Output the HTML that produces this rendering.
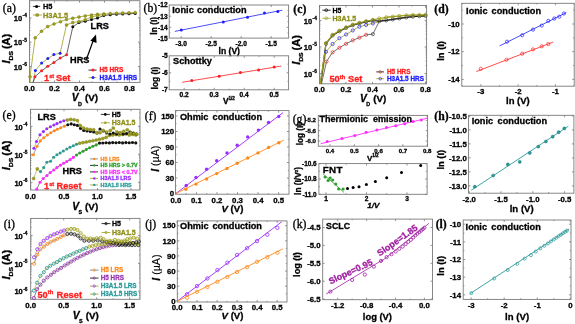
<!DOCTYPE html><html><head><meta charset="utf-8"><style>html,body{margin:0;padding:0;background:#fff;}svg{display:block;will-change:transform;}</style></head><body>
<svg width="575" height="324" viewBox="0 0 575 324">
<rect width="575" height="324" fill="#fff"/>
<rect x="29.5" y="0.7" width="110.5" height="81.7" fill="none" stroke="#7a7a7a" stroke-width="0.9"/>
<line x1="29.5" y1="82.4" x2="29.5" y2="80.4" stroke="#7a7a7a" stroke-width="0.81" />
<line x1="29.5" y1="0.7" x2="29.5" y2="2.7" stroke="#7a7a7a" stroke-width="0.81" />
<line x1="54.5" y1="82.4" x2="54.5" y2="80.4" stroke="#7a7a7a" stroke-width="0.81" />
<line x1="54.5" y1="0.7" x2="54.5" y2="2.7" stroke="#7a7a7a" stroke-width="0.81" />
<line x1="79.5" y1="82.4" x2="79.5" y2="80.4" stroke="#7a7a7a" stroke-width="0.81" />
<line x1="79.5" y1="0.7" x2="79.5" y2="2.7" stroke="#7a7a7a" stroke-width="0.81" />
<line x1="104.5" y1="82.4" x2="104.5" y2="80.4" stroke="#7a7a7a" stroke-width="0.81" />
<line x1="104.5" y1="0.7" x2="104.5" y2="2.7" stroke="#7a7a7a" stroke-width="0.81" />
<line x1="129.5" y1="82.4" x2="129.5" y2="80.4" stroke="#7a7a7a" stroke-width="0.81" />
<line x1="129.5" y1="0.7" x2="129.5" y2="2.7" stroke="#7a7a7a" stroke-width="0.81" />
<line x1="42" y1="82.4" x2="42" y2="81.4" stroke="#7a7a7a" stroke-width="0.7200000000000001" />
<line x1="42" y1="0.7" x2="42" y2="1.7" stroke="#7a7a7a" stroke-width="0.7200000000000001" />
<line x1="67" y1="82.4" x2="67" y2="81.4" stroke="#7a7a7a" stroke-width="0.7200000000000001" />
<line x1="67" y1="0.7" x2="67" y2="1.7" stroke="#7a7a7a" stroke-width="0.7200000000000001" />
<line x1="92" y1="82.4" x2="92" y2="81.4" stroke="#7a7a7a" stroke-width="0.7200000000000001" />
<line x1="92" y1="0.7" x2="92" y2="1.7" stroke="#7a7a7a" stroke-width="0.7200000000000001" />
<line x1="117" y1="82.4" x2="117" y2="81.4" stroke="#7a7a7a" stroke-width="0.7200000000000001" />
<line x1="117" y1="0.7" x2="117" y2="1.7" stroke="#7a7a7a" stroke-width="0.7200000000000001" />
<line x1="29.5" y1="17.9" x2="31.5" y2="17.9" stroke="#7a7a7a" stroke-width="0.81" />
<line x1="140" y1="17.9" x2="138" y2="17.9" stroke="#7a7a7a" stroke-width="0.81" />
<line x1="29.5" y1="42.2" x2="31.5" y2="42.2" stroke="#7a7a7a" stroke-width="0.81" />
<line x1="140" y1="42.2" x2="138" y2="42.2" stroke="#7a7a7a" stroke-width="0.81" />
<line x1="29.5" y1="66.5" x2="31.5" y2="66.5" stroke="#7a7a7a" stroke-width="0.81" />
<line x1="140" y1="66.5" x2="138" y2="66.5" stroke="#7a7a7a" stroke-width="0.81" />
<line x1="29.5" y1="79.21" x2="30.5" y2="79.21" stroke="#7a7a7a" stroke-width="0.7200000000000001" />
<line x1="140" y1="79.21" x2="139" y2="79.21" stroke="#7a7a7a" stroke-width="0.7200000000000001" />
<line x1="29.5" y1="76.17" x2="30.5" y2="76.17" stroke="#7a7a7a" stroke-width="0.7200000000000001" />
<line x1="140" y1="76.17" x2="139" y2="76.17" stroke="#7a7a7a" stroke-width="0.7200000000000001" />
<line x1="29.5" y1="73.82" x2="30.5" y2="73.82" stroke="#7a7a7a" stroke-width="0.7200000000000001" />
<line x1="140" y1="73.82" x2="139" y2="73.82" stroke="#7a7a7a" stroke-width="0.7200000000000001" />
<line x1="29.5" y1="71.89" x2="30.5" y2="71.89" stroke="#7a7a7a" stroke-width="0.7200000000000001" />
<line x1="140" y1="71.89" x2="139" y2="71.89" stroke="#7a7a7a" stroke-width="0.7200000000000001" />
<line x1="29.5" y1="70.26" x2="30.5" y2="70.26" stroke="#7a7a7a" stroke-width="0.7200000000000001" />
<line x1="140" y1="70.26" x2="139" y2="70.26" stroke="#7a7a7a" stroke-width="0.7200000000000001" />
<line x1="29.5" y1="68.85" x2="30.5" y2="68.85" stroke="#7a7a7a" stroke-width="0.7200000000000001" />
<line x1="140" y1="68.85" x2="139" y2="68.85" stroke="#7a7a7a" stroke-width="0.7200000000000001" />
<line x1="29.5" y1="67.61" x2="30.5" y2="67.61" stroke="#7a7a7a" stroke-width="0.7200000000000001" />
<line x1="140" y1="67.61" x2="139" y2="67.61" stroke="#7a7a7a" stroke-width="0.7200000000000001" />
<line x1="29.5" y1="59.18" x2="30.5" y2="59.18" stroke="#7a7a7a" stroke-width="0.7200000000000001" />
<line x1="140" y1="59.18" x2="139" y2="59.18" stroke="#7a7a7a" stroke-width="0.7200000000000001" />
<line x1="29.5" y1="54.91" x2="30.5" y2="54.91" stroke="#7a7a7a" stroke-width="0.7200000000000001" />
<line x1="140" y1="54.91" x2="139" y2="54.91" stroke="#7a7a7a" stroke-width="0.7200000000000001" />
<line x1="29.5" y1="51.87" x2="30.5" y2="51.87" stroke="#7a7a7a" stroke-width="0.7200000000000001" />
<line x1="140" y1="51.87" x2="139" y2="51.87" stroke="#7a7a7a" stroke-width="0.7200000000000001" />
<line x1="29.5" y1="49.52" x2="30.5" y2="49.52" stroke="#7a7a7a" stroke-width="0.7200000000000001" />
<line x1="140" y1="49.52" x2="139" y2="49.52" stroke="#7a7a7a" stroke-width="0.7200000000000001" />
<line x1="29.5" y1="47.59" x2="30.5" y2="47.59" stroke="#7a7a7a" stroke-width="0.7200000000000001" />
<line x1="140" y1="47.59" x2="139" y2="47.59" stroke="#7a7a7a" stroke-width="0.7200000000000001" />
<line x1="29.5" y1="45.96" x2="30.5" y2="45.96" stroke="#7a7a7a" stroke-width="0.7200000000000001" />
<line x1="140" y1="45.96" x2="139" y2="45.96" stroke="#7a7a7a" stroke-width="0.7200000000000001" />
<line x1="29.5" y1="44.55" x2="30.5" y2="44.55" stroke="#7a7a7a" stroke-width="0.7200000000000001" />
<line x1="140" y1="44.55" x2="139" y2="44.55" stroke="#7a7a7a" stroke-width="0.7200000000000001" />
<line x1="29.5" y1="43.31" x2="30.5" y2="43.31" stroke="#7a7a7a" stroke-width="0.7200000000000001" />
<line x1="140" y1="43.31" x2="139" y2="43.31" stroke="#7a7a7a" stroke-width="0.7200000000000001" />
<line x1="29.5" y1="34.88" x2="30.5" y2="34.88" stroke="#7a7a7a" stroke-width="0.7200000000000001" />
<line x1="140" y1="34.88" x2="139" y2="34.88" stroke="#7a7a7a" stroke-width="0.7200000000000001" />
<line x1="29.5" y1="30.61" x2="30.5" y2="30.61" stroke="#7a7a7a" stroke-width="0.7200000000000001" />
<line x1="140" y1="30.61" x2="139" y2="30.61" stroke="#7a7a7a" stroke-width="0.7200000000000001" />
<line x1="29.5" y1="27.57" x2="30.5" y2="27.57" stroke="#7a7a7a" stroke-width="0.7200000000000001" />
<line x1="140" y1="27.57" x2="139" y2="27.57" stroke="#7a7a7a" stroke-width="0.7200000000000001" />
<line x1="29.5" y1="25.22" x2="30.5" y2="25.22" stroke="#7a7a7a" stroke-width="0.7200000000000001" />
<line x1="140" y1="25.22" x2="139" y2="25.22" stroke="#7a7a7a" stroke-width="0.7200000000000001" />
<line x1="29.5" y1="23.29" x2="30.5" y2="23.29" stroke="#7a7a7a" stroke-width="0.7200000000000001" />
<line x1="140" y1="23.29" x2="139" y2="23.29" stroke="#7a7a7a" stroke-width="0.7200000000000001" />
<line x1="29.5" y1="21.66" x2="30.5" y2="21.66" stroke="#7a7a7a" stroke-width="0.7200000000000001" />
<line x1="140" y1="21.66" x2="139" y2="21.66" stroke="#7a7a7a" stroke-width="0.7200000000000001" />
<line x1="29.5" y1="20.25" x2="30.5" y2="20.25" stroke="#7a7a7a" stroke-width="0.7200000000000001" />
<line x1="140" y1="20.25" x2="139" y2="20.25" stroke="#7a7a7a" stroke-width="0.7200000000000001" />
<line x1="29.5" y1="19.01" x2="30.5" y2="19.01" stroke="#7a7a7a" stroke-width="0.7200000000000001" />
<line x1="140" y1="19.01" x2="139" y2="19.01" stroke="#7a7a7a" stroke-width="0.7200000000000001" />
<line x1="29.5" y1="10.58" x2="30.5" y2="10.58" stroke="#7a7a7a" stroke-width="0.7200000000000001" />
<line x1="140" y1="10.58" x2="139" y2="10.58" stroke="#7a7a7a" stroke-width="0.7200000000000001" />
<line x1="29.5" y1="6.31" x2="30.5" y2="6.31" stroke="#7a7a7a" stroke-width="0.7200000000000001" />
<line x1="140" y1="6.31" x2="139" y2="6.31" stroke="#7a7a7a" stroke-width="0.7200000000000001" />
<line x1="29.5" y1="3.27" x2="30.5" y2="3.27" stroke="#7a7a7a" stroke-width="0.7200000000000001" />
<line x1="140" y1="3.27" x2="139" y2="3.27" stroke="#7a7a7a" stroke-width="0.7200000000000001" />
<text x="29.5" y="91.2" font-size="7.8" text-anchor="middle" font-weight="bold" fill="#000" font-family='"Liberation Sans", sans-serif' font-style="normal"  stroke="#000" stroke-width="0.3">0.0</text>
<text x="54.5" y="91.2" font-size="7.8" text-anchor="middle" font-weight="bold" fill="#000" font-family='"Liberation Sans", sans-serif' font-style="normal"  stroke="#000" stroke-width="0.3">0.2</text>
<text x="79.5" y="91.2" font-size="7.8" text-anchor="middle" font-weight="bold" fill="#000" font-family='"Liberation Sans", sans-serif' font-style="normal"  stroke="#000" stroke-width="0.3">0.4</text>
<text x="104.5" y="91.2" font-size="7.8" text-anchor="middle" font-weight="bold" fill="#000" font-family='"Liberation Sans", sans-serif' font-style="normal"  stroke="#000" stroke-width="0.3">0.6</text>
<text x="129.5" y="91.2" font-size="7.8" text-anchor="middle" font-weight="bold" fill="#000" font-family='"Liberation Sans", sans-serif' font-style="normal"  stroke="#000" stroke-width="0.3">0.8</text>
<text x="22.2" y="21.1" font-size="7.5" text-anchor="end" font-weight="bold" fill="#000" font-family='"Liberation Sans", sans-serif' font-style="normal"  stroke="#000" stroke-width="0.3">10</text>
<text x="22.6" y="17.3" font-size="4.8" text-anchor="start" font-weight="bold" fill="#000" font-family='"Liberation Sans", sans-serif' font-style="normal"  stroke="#000" stroke-width="0.3">-4</text>
<text x="22.2" y="45.4" font-size="7.5" text-anchor="end" font-weight="bold" fill="#000" font-family='"Liberation Sans", sans-serif' font-style="normal"  stroke="#000" stroke-width="0.3">10</text>
<text x="22.6" y="41.6" font-size="4.8" text-anchor="start" font-weight="bold" fill="#000" font-family='"Liberation Sans", sans-serif' font-style="normal"  stroke="#000" stroke-width="0.3">-5</text>
<text x="22.2" y="69.7" font-size="7.5" text-anchor="end" font-weight="bold" fill="#000" font-family='"Liberation Sans", sans-serif' font-style="normal"  stroke="#000" stroke-width="0.3">10</text>
<text x="22.6" y="65.9" font-size="4.8" text-anchor="start" font-weight="bold" fill="#000" font-family='"Liberation Sans", sans-serif' font-style="normal"  stroke="#000" stroke-width="0.3">-6</text>
<text x="71.8" y="101.4" font-size="9.8" font-weight="bold" font-family='"Liberation Sans", sans-serif' stroke="#000" stroke-width="0.3"><tspan font-style="italic" font-size="10.19">V</tspan><tspan font-size="5.49" dy="4.12" dx="-0.5">D</tspan><tspan dy="-4.12" dx="2.94">(V)</tspan></text>
<text transform="translate(10.4,48.7) rotate(-90) scale(1.1,1)" text-anchor="middle" font-size="10.0" font-weight="bold" font-family='"Liberation Sans", sans-serif' stroke="#000" stroke-width="0.3"><tspan font-style="italic">I</tspan><tspan font-size="6.20" dy="2.80">DS</tspan><tspan dy="-2.80" dx="1.80">(A)</tspan></text>
<text x="2.8" y="11.9" font-size="11.7" text-anchor="start" font-weight="normal" fill="#000" font-family='"Liberation Serif", serif' font-style="normal"  stroke="#000" stroke-width="0.3">(a)</text>
<polyline points="30.3,82.4 30,76.7 35.2,37.8 41.5,31.3 47.7,26.6 54,23.9 60.5,21.7 66.5,19.4 72.8,18.2 79,17 85.2,15.9 91.5,15 97.5,14.3 103.9,13.9 110.2,13.6 116.5,13.2 122.7,13 129,12.8 135.2,12.6" fill="none" stroke="#a0a020" stroke-width="0.8" stroke-linejoin="round" />
<polyline points="33.4,82.4 35.4,70.5 41.6,63.1 47.8,58.6 53.9,54.6 60.1,53.2 66.5,24.9 72.8,22.6 79,21.5 85.2,19.8 91.5,17 97.5,15.6 103.9,14.6" fill="none" stroke="#a0a020" stroke-width="0.8" stroke-linejoin="round" />
<polyline points="33,82.4 34.9,76.7 41.6,70.8 47.8,66.3 53.9,62.5 60.1,58.1 66.6,54.8 72.8,26.8 79,22.6 85.2,21.2 91.5,19.6 97.5,18 103.9,15.6 110.2,14.7 116.5,14.2 122.7,13.9 129,13.7 135.2,13.5" fill="none" stroke="#222" stroke-width="0.7" stroke-linejoin="round" />
<circle cx="72.8" cy="26.8" r="1.5" fill="#111"/>
<circle cx="79" cy="22.6" r="1.5" fill="#111"/>
<circle cx="85.2" cy="21.2" r="1.5" fill="#111"/>
<circle cx="91.5" cy="19.6" r="1.5" fill="#111"/>
<circle cx="97.5" cy="18" r="1.5" fill="#111"/>
<circle cx="103.9" cy="15.6" r="1.5" fill="#111"/>
<circle cx="110.2" cy="14.7" r="1.5" fill="#111"/>
<circle cx="116.5" cy="14.2" r="1.5" fill="#111"/>
<circle cx="122.7" cy="13.9" r="1.5" fill="#111"/>
<circle cx="129" cy="13.7" r="1.5" fill="#111"/>
<circle cx="135.2" cy="13.5" r="1.5" fill="#111"/>
<circle cx="30" cy="76.7" r="1.5" fill="#a0a020" stroke="#6e6e12" stroke-width="0.35"/>
<circle cx="35.2" cy="37.8" r="1.5" fill="#a0a020" stroke="#6e6e12" stroke-width="0.35"/>
<circle cx="41.5" cy="31.3" r="1.5" fill="#a0a020" stroke="#6e6e12" stroke-width="0.35"/>
<circle cx="47.7" cy="26.6" r="1.5" fill="#a0a020" stroke="#6e6e12" stroke-width="0.35"/>
<circle cx="54" cy="23.9" r="1.5" fill="#a0a020" stroke="#6e6e12" stroke-width="0.35"/>
<circle cx="60.5" cy="21.7" r="1.5" fill="#a0a020" stroke="#6e6e12" stroke-width="0.35"/>
<circle cx="66.5" cy="19.4" r="1.5" fill="#a0a020" stroke="#6e6e12" stroke-width="0.35"/>
<circle cx="72.8" cy="18.2" r="1.5" fill="#a0a020" stroke="#6e6e12" stroke-width="0.35"/>
<circle cx="79" cy="17" r="1.5" fill="#a0a020" stroke="#6e6e12" stroke-width="0.35"/>
<circle cx="85.2" cy="15.9" r="1.5" fill="#a0a020" stroke="#6e6e12" stroke-width="0.35"/>
<circle cx="91.5" cy="15" r="1.5" fill="#a0a020" stroke="#6e6e12" stroke-width="0.35"/>
<circle cx="97.5" cy="14.3" r="1.5" fill="#a0a020" stroke="#6e6e12" stroke-width="0.35"/>
<circle cx="103.9" cy="13.9" r="1.5" fill="#a0a020" stroke="#6e6e12" stroke-width="0.35"/>
<circle cx="110.2" cy="13.6" r="1.5" fill="#a0a020" stroke="#6e6e12" stroke-width="0.35"/>
<circle cx="116.5" cy="13.2" r="1.5" fill="#a0a020" stroke="#6e6e12" stroke-width="0.35"/>
<circle cx="122.7" cy="13" r="1.5" fill="#a0a020" stroke="#6e6e12" stroke-width="0.35"/>
<circle cx="129" cy="12.8" r="1.5" fill="#a0a020" stroke="#6e6e12" stroke-width="0.35"/>
<circle cx="135.2" cy="12.6" r="1.5" fill="#a0a020" stroke="#6e6e12" stroke-width="0.35"/>
<circle cx="66.5" cy="24.9" r="1.5" fill="#a0a020" stroke="#6e6e12" stroke-width="0.35"/>
<circle cx="72.8" cy="22.6" r="1.5" fill="#a0a020" stroke="#6e6e12" stroke-width="0.35"/>
<circle cx="79" cy="21.5" r="1.5" fill="#a0a020" stroke="#6e6e12" stroke-width="0.35"/>
<circle cx="85.2" cy="19.8" r="1.5" fill="#a0a020" stroke="#6e6e12" stroke-width="0.35"/>
<circle cx="91.5" cy="17" r="1.5" fill="#a0a020" stroke="#6e6e12" stroke-width="0.35"/>
<circle cx="97.5" cy="15.6" r="1.5" fill="#a0a020" stroke="#6e6e12" stroke-width="0.35"/>
<circle cx="103.9" cy="14.6" r="1.5" fill="#a0a020" stroke="#6e6e12" stroke-width="0.35"/>
<circle cx="35.4" cy="70.5" r="1.5" fill="#2020ff"/>
<circle cx="41.6" cy="63.1" r="1.5" fill="#2020ff"/>
<circle cx="47.8" cy="58.6" r="1.5" fill="#2020ff"/>
<circle cx="53.9" cy="54.6" r="1.5" fill="#2020ff"/>
<circle cx="60.1" cy="53.2" r="1.5" fill="#2020ff"/>
<circle cx="34.9" cy="76.7" r="1.5" fill="#ff2020"/>
<circle cx="41.6" cy="70.8" r="1.5" fill="#ff2020"/>
<circle cx="47.8" cy="66.3" r="1.5" fill="#ff2020"/>
<circle cx="53.9" cy="62.5" r="1.5" fill="#ff2020"/>
<circle cx="60.1" cy="58.1" r="1.5" fill="#ff2020"/>
<circle cx="66.6" cy="54.8" r="1.5" fill="#ff2020"/>
<line x1="32.9" y1="6.4" x2="40.2" y2="6.4" stroke="#000" stroke-width="0.8" />
<circle cx="36.6" cy="6.4" r="1.5" fill="#000"/>
<text x="43" y="9" font-size="7.4" text-anchor="start" font-weight="bold" fill="#000" font-family='"Liberation Sans", sans-serif' font-style="normal"  stroke="#000" stroke-width="0.3">H5</text>
<line x1="32.9" y1="15" x2="41.9" y2="15" stroke="#a0a020" stroke-width="0.8" />
<circle cx="37.2" cy="15" r="1.6" fill="#a0a020" stroke="#6e6e12" stroke-width="0.35"/>
<text x="43" y="17.6" font-size="7.4" text-anchor="start" font-weight="bold" fill="#8f8f1a" font-family='"Liberation Sans", sans-serif' font-style="normal"  stroke="#8f8f1a" stroke-width="0.3">H3A1.5</text>
<line x1="88.5" y1="70.1" x2="96.5" y2="70.1" stroke="#000" stroke-width="0.8" />
<circle cx="93" cy="70.1" r="1.5" fill="#ff2020"/>
<text x="99.4" y="72.4" font-size="6.5" text-anchor="start" font-weight="bold" fill="#ff2020" font-family='"Liberation Sans", sans-serif' font-style="normal"  stroke="#ff2020" stroke-width="0.3">H5 HRS</text>
<line x1="88.5" y1="77.6" x2="96.5" y2="77.6" stroke="#a0a020" stroke-width="0.8" />
<circle cx="93" cy="77.6" r="1.5" fill="#2020ff"/>
<text x="99.6" y="79.9" font-size="6.5" text-anchor="start" font-weight="bold" fill="#2020ff" font-family='"Liberation Sans", sans-serif' font-style="normal"  stroke="#2020ff" stroke-width="0.3">H3A1.5 HRS</text>
<text x="90.6" y="29.4" font-size="9.2" text-anchor="start" font-weight="bold" fill="#000" font-family='"Liberation Sans", sans-serif' font-style="normal"  stroke="#000" stroke-width="0.3">LRS</text>
<text x="70" y="62.6" font-size="9.2" text-anchor="start" font-weight="bold" fill="#000" font-family='"Liberation Sans", sans-serif' font-style="normal"  stroke="#000" stroke-width="0.3">HRS</text>
<line x1="86.3" y1="59.6" x2="93.2" y2="40.6" stroke="#000" stroke-width="1.3" />
<polygon points="96.0,34.6 90.4,40.8 96.6,43.0" fill="#000"/>
<text x="44" y="81.4" font-size="9.2" font-weight="bold" fill="#ff2020" font-family='"Liberation Sans", sans-serif' stroke="#ff2020" stroke-width="0.3">1<tspan font-size="5.6" dy="-3.6">st</tspan><tspan dy="3.6" dx="2">Set</tspan></text>
<rect x="169.2" y="5" width="119.4" height="33.1" fill="none" stroke="#7a7a7a" stroke-width="0.9"/>
<line x1="181.2" y1="38.1" x2="181.2" y2="36.1" stroke="#7a7a7a" stroke-width="0.81" />
<line x1="181.2" y1="5" x2="181.2" y2="7" stroke="#7a7a7a" stroke-width="0.81" />
<line x1="211.2" y1="38.1" x2="211.2" y2="36.1" stroke="#7a7a7a" stroke-width="0.81" />
<line x1="211.2" y1="5" x2="211.2" y2="7" stroke="#7a7a7a" stroke-width="0.81" />
<line x1="241.2" y1="38.1" x2="241.2" y2="36.1" stroke="#7a7a7a" stroke-width="0.81" />
<line x1="241.2" y1="5" x2="241.2" y2="7" stroke="#7a7a7a" stroke-width="0.81" />
<line x1="271.2" y1="38.1" x2="271.2" y2="36.1" stroke="#7a7a7a" stroke-width="0.81" />
<line x1="271.2" y1="5" x2="271.2" y2="7" stroke="#7a7a7a" stroke-width="0.81" />
<line x1="169.2" y1="16.2" x2="171.2" y2="16.2" stroke="#7a7a7a" stroke-width="0.81" />
<line x1="288.6" y1="16.2" x2="286.6" y2="16.2" stroke="#7a7a7a" stroke-width="0.81" />
<line x1="169.2" y1="27.3" x2="171.2" y2="27.3" stroke="#7a7a7a" stroke-width="0.81" />
<line x1="288.6" y1="27.3" x2="286.6" y2="27.3" stroke="#7a7a7a" stroke-width="0.81" />
<line x1="169.2" y1="10.65" x2="170.4" y2="10.65" stroke="#7a7a7a" stroke-width="0.7200000000000001" />
<line x1="288.6" y1="10.65" x2="287.4" y2="10.65" stroke="#7a7a7a" stroke-width="0.7200000000000001" />
<line x1="169.2" y1="21.75" x2="170.4" y2="21.75" stroke="#7a7a7a" stroke-width="0.7200000000000001" />
<line x1="288.6" y1="21.75" x2="287.4" y2="21.75" stroke="#7a7a7a" stroke-width="0.7200000000000001" />
<line x1="169.2" y1="32.85" x2="170.4" y2="32.85" stroke="#7a7a7a" stroke-width="0.7200000000000001" />
<line x1="288.6" y1="32.85" x2="287.4" y2="32.85" stroke="#7a7a7a" stroke-width="0.7200000000000001" />
<text x="181.2" y="46.2" font-size="6.6" text-anchor="middle" font-weight="bold" fill="#000" font-family='"Liberation Sans", sans-serif' font-style="normal"  stroke="#000" stroke-width="0.3">-3.0</text>
<text x="211.2" y="46.2" font-size="6.6" text-anchor="middle" font-weight="bold" fill="#000" font-family='"Liberation Sans", sans-serif' font-style="normal"  stroke="#000" stroke-width="0.3">-2.5</text>
<text x="241.2" y="46.2" font-size="6.6" text-anchor="middle" font-weight="bold" fill="#000" font-family='"Liberation Sans", sans-serif' font-style="normal"  stroke="#000" stroke-width="0.3">-2.0</text>
<text x="271.2" y="46.2" font-size="6.6" text-anchor="middle" font-weight="bold" fill="#000" font-family='"Liberation Sans", sans-serif' font-style="normal"  stroke="#000" stroke-width="0.3">-1.5</text>
<text x="167.6" y="7.41" font-size="6.6" text-anchor="end" font-weight="bold" fill="#000" font-family='"Liberation Sans", sans-serif' font-style="normal"  stroke="#000" stroke-width="0.3">-12</text>
<text x="167.6" y="18.51" font-size="6.6" text-anchor="end" font-weight="bold" fill="#000" font-family='"Liberation Sans", sans-serif' font-style="normal"  stroke="#000" stroke-width="0.3">-13</text>
<text x="167.6" y="29.61" font-size="6.6" text-anchor="end" font-weight="bold" fill="#000" font-family='"Liberation Sans", sans-serif' font-style="normal"  stroke="#000" stroke-width="0.3">-14</text>
<text x="167.6" y="40.71" font-size="6.6" text-anchor="end" font-weight="bold" fill="#000" font-family='"Liberation Sans", sans-serif' font-style="normal"  stroke="#000" stroke-width="0.3">-15</text>
<polyline points="174.8,31.4 282.3,10.2" fill="none" stroke="#2020ff" stroke-width="0.8" stroke-linejoin="round" />
<circle cx="181.3" cy="30" r="1.5" fill="#2020ff"/>
<circle cx="223.3" cy="22.1" r="1.5" fill="#2020ff"/>
<circle cx="247.5" cy="17.3" r="1.5" fill="#2020ff"/>
<circle cx="264.5" cy="13.1" r="1.5" fill="#2020ff"/>
<circle cx="277.8" cy="11.4" r="1.5" fill="#2020ff"/>
<text x="172.3" y="13" font-size="9.2" font-weight="bold" fill="#000" font-family='"Liberation Sans", sans-serif' word-spacing="0.8" letter-spacing="0" stroke="#000" stroke-width="0.3">Ionic conduction</text>
<text transform="translate(157.3,25.8) rotate(-90)" font-size="8.4" text-anchor="middle" font-weight="bold" fill="#000" font-family='"Liberation Sans", sans-serif'  stroke="#000" stroke-width="0.3">ln (I)</text>
<text x="218.5" y="53.6" font-size="8.6" text-anchor="start" font-weight="bold" fill="#000" font-family='"Liberation Sans", sans-serif' font-style="normal"  stroke="#000" stroke-width="0.3">ln (V)</text>
<text x="143.6" y="12.2" font-size="11.7" text-anchor="start" font-weight="normal" fill="#000" font-family='"Liberation Serif", serif' font-style="normal"  stroke="#000" stroke-width="0.3">(b)</text>
<rect x="169.2" y="55.8" width="119.4" height="34" fill="none" stroke="#7a7a7a" stroke-width="0.9"/>
<line x1="184.2" y1="89.8" x2="184.2" y2="87.8" stroke="#7a7a7a" stroke-width="0.81" />
<line x1="184.2" y1="55.8" x2="184.2" y2="57.8" stroke="#7a7a7a" stroke-width="0.81" />
<line x1="214.2" y1="89.8" x2="214.2" y2="87.8" stroke="#7a7a7a" stroke-width="0.81" />
<line x1="214.2" y1="55.8" x2="214.2" y2="57.8" stroke="#7a7a7a" stroke-width="0.81" />
<line x1="244.2" y1="89.8" x2="244.2" y2="87.8" stroke="#7a7a7a" stroke-width="0.81" />
<line x1="244.2" y1="55.8" x2="244.2" y2="57.8" stroke="#7a7a7a" stroke-width="0.81" />
<line x1="274.2" y1="89.8" x2="274.2" y2="87.8" stroke="#7a7a7a" stroke-width="0.81" />
<line x1="274.2" y1="55.8" x2="274.2" y2="57.8" stroke="#7a7a7a" stroke-width="0.81" />
<line x1="199.2" y1="89.8" x2="199.2" y2="88.6" stroke="#7a7a7a" stroke-width="0.7200000000000001" />
<line x1="199.2" y1="55.8" x2="199.2" y2="57" stroke="#7a7a7a" stroke-width="0.7200000000000001" />
<line x1="229.2" y1="89.8" x2="229.2" y2="88.6" stroke="#7a7a7a" stroke-width="0.7200000000000001" />
<line x1="229.2" y1="55.8" x2="229.2" y2="57" stroke="#7a7a7a" stroke-width="0.7200000000000001" />
<line x1="259.2" y1="89.8" x2="259.2" y2="88.6" stroke="#7a7a7a" stroke-width="0.7200000000000001" />
<line x1="259.2" y1="55.8" x2="259.2" y2="57" stroke="#7a7a7a" stroke-width="0.7200000000000001" />
<line x1="169.2" y1="72.75" x2="171.2" y2="72.75" stroke="#7a7a7a" stroke-width="0.81" />
<line x1="288.6" y1="72.75" x2="286.6" y2="72.75" stroke="#7a7a7a" stroke-width="0.81" />
<line x1="169.2" y1="64.17" x2="170.4" y2="64.17" stroke="#7a7a7a" stroke-width="0.7200000000000001" />
<line x1="288.6" y1="64.17" x2="287.4" y2="64.17" stroke="#7a7a7a" stroke-width="0.7200000000000001" />
<line x1="169.2" y1="81.33" x2="170.4" y2="81.33" stroke="#7a7a7a" stroke-width="0.7200000000000001" />
<line x1="288.6" y1="81.33" x2="287.4" y2="81.33" stroke="#7a7a7a" stroke-width="0.7200000000000001" />
<text x="184.2" y="97" font-size="6.6" text-anchor="middle" font-weight="bold" fill="#000" font-family='"Liberation Sans", sans-serif' font-style="normal"  stroke="#000" stroke-width="0.3">0.2</text>
<text x="214.2" y="97" font-size="6.6" text-anchor="middle" font-weight="bold" fill="#000" font-family='"Liberation Sans", sans-serif' font-style="normal"  stroke="#000" stroke-width="0.3">0.3</text>
<text x="244.2" y="97" font-size="6.6" text-anchor="middle" font-weight="bold" fill="#000" font-family='"Liberation Sans", sans-serif' font-style="normal"  stroke="#000" stroke-width="0.3">0.4</text>
<text x="274.2" y="97" font-size="6.6" text-anchor="middle" font-weight="bold" fill="#000" font-family='"Liberation Sans", sans-serif' font-style="normal"  stroke="#000" stroke-width="0.3">0.5</text>
<text x="167.8" y="57.91" font-size="6.6" text-anchor="end" font-weight="bold" fill="#000" font-family='"Liberation Sans", sans-serif' font-style="normal"  stroke="#000" stroke-width="0.3">-5</text>
<text x="167.8" y="75.06" font-size="6.6" text-anchor="end" font-weight="bold" fill="#000" font-family='"Liberation Sans", sans-serif' font-style="normal"  stroke="#000" stroke-width="0.3">-6</text>
<text x="167.8" y="92.21" font-size="6.6" text-anchor="end" font-weight="bold" fill="#000" font-family='"Liberation Sans", sans-serif' font-style="normal"  stroke="#000" stroke-width="0.3">-7</text>
<polyline points="182.1,82.3 281.2,66.1" fill="none" stroke="#ff2020" stroke-width="0.8" stroke-linejoin="round" />
<circle cx="191.8" cy="80.6" r="1.5" fill="#ff2020"/>
<circle cx="219.2" cy="76.3" r="1.5" fill="#ff2020"/>
<circle cx="240.4" cy="72.6" r="1.5" fill="#ff2020"/>
<circle cx="258.6" cy="70" r="1.5" fill="#ff2020"/>
<circle cx="274.2" cy="67" r="1.5" fill="#ff2020"/>
<text x="173.1" y="64.3" font-size="9.2" font-weight="bold" fill="#000" font-family='"Liberation Sans", sans-serif' word-spacing="2.2" letter-spacing="0" stroke="#000" stroke-width="0.3">Schottky</text>
<text transform="translate(157.6,78) rotate(-90)" font-size="8.4" text-anchor="middle" font-weight="bold" fill="#000" font-family='"Liberation Sans", sans-serif'  stroke="#000" stroke-width="0.3">log (I)</text>
<text x="222.9" y="104" font-size="8.4" font-weight="bold" font-family='"Liberation Sans", sans-serif' stroke="#000" stroke-width="0.3">V<tspan font-size="4.6" dy="-4.2">1/2</tspan></text>
<rect x="319.5" y="5.5" width="107.1" height="78.3" fill="none" stroke="#7a7a7a" stroke-width="0.9"/>
<line x1="319.5" y1="83.8" x2="319.5" y2="81.8" stroke="#7a7a7a" stroke-width="0.81" />
<line x1="319.5" y1="5.5" x2="319.5" y2="7.5" stroke="#7a7a7a" stroke-width="0.81" />
<line x1="346" y1="83.8" x2="346" y2="81.8" stroke="#7a7a7a" stroke-width="0.81" />
<line x1="346" y1="5.5" x2="346" y2="7.5" stroke="#7a7a7a" stroke-width="0.81" />
<line x1="372.5" y1="83.8" x2="372.5" y2="81.8" stroke="#7a7a7a" stroke-width="0.81" />
<line x1="372.5" y1="5.5" x2="372.5" y2="7.5" stroke="#7a7a7a" stroke-width="0.81" />
<line x1="399" y1="83.8" x2="399" y2="81.8" stroke="#7a7a7a" stroke-width="0.81" />
<line x1="399" y1="5.5" x2="399" y2="7.5" stroke="#7a7a7a" stroke-width="0.81" />
<line x1="425.5" y1="83.8" x2="425.5" y2="81.8" stroke="#7a7a7a" stroke-width="0.81" />
<line x1="425.5" y1="5.5" x2="425.5" y2="7.5" stroke="#7a7a7a" stroke-width="0.81" />
<line x1="332.75" y1="83.8" x2="332.75" y2="82.8" stroke="#7a7a7a" stroke-width="0.7200000000000001" />
<line x1="332.75" y1="5.5" x2="332.75" y2="6.5" stroke="#7a7a7a" stroke-width="0.7200000000000001" />
<line x1="359.25" y1="83.8" x2="359.25" y2="82.8" stroke="#7a7a7a" stroke-width="0.7200000000000001" />
<line x1="359.25" y1="5.5" x2="359.25" y2="6.5" stroke="#7a7a7a" stroke-width="0.7200000000000001" />
<line x1="385.75" y1="83.8" x2="385.75" y2="82.8" stroke="#7a7a7a" stroke-width="0.7200000000000001" />
<line x1="385.75" y1="5.5" x2="385.75" y2="6.5" stroke="#7a7a7a" stroke-width="0.7200000000000001" />
<line x1="412.25" y1="83.8" x2="412.25" y2="82.8" stroke="#7a7a7a" stroke-width="0.7200000000000001" />
<line x1="412.25" y1="5.5" x2="412.25" y2="6.5" stroke="#7a7a7a" stroke-width="0.7200000000000001" />
<line x1="319.5" y1="20.4" x2="321.5" y2="20.4" stroke="#7a7a7a" stroke-width="0.81" />
<line x1="426.6" y1="20.4" x2="424.6" y2="20.4" stroke="#7a7a7a" stroke-width="0.81" />
<line x1="319.5" y1="46.95" x2="321.5" y2="46.95" stroke="#7a7a7a" stroke-width="0.81" />
<line x1="426.6" y1="46.95" x2="424.6" y2="46.95" stroke="#7a7a7a" stroke-width="0.81" />
<line x1="319.5" y1="73.5" x2="321.5" y2="73.5" stroke="#7a7a7a" stroke-width="0.81" />
<line x1="426.6" y1="73.5" x2="424.6" y2="73.5" stroke="#7a7a7a" stroke-width="0.81" />
<line x1="319.5" y1="81.49" x2="320.5" y2="81.49" stroke="#7a7a7a" stroke-width="0.7200000000000001" />
<line x1="426.6" y1="81.49" x2="425.6" y2="81.49" stroke="#7a7a7a" stroke-width="0.7200000000000001" />
<line x1="319.5" y1="79.39" x2="320.5" y2="79.39" stroke="#7a7a7a" stroke-width="0.7200000000000001" />
<line x1="426.6" y1="79.39" x2="425.6" y2="79.39" stroke="#7a7a7a" stroke-width="0.7200000000000001" />
<line x1="319.5" y1="77.61" x2="320.5" y2="77.61" stroke="#7a7a7a" stroke-width="0.7200000000000001" />
<line x1="426.6" y1="77.61" x2="425.6" y2="77.61" stroke="#7a7a7a" stroke-width="0.7200000000000001" />
<line x1="319.5" y1="76.07" x2="320.5" y2="76.07" stroke="#7a7a7a" stroke-width="0.7200000000000001" />
<line x1="426.6" y1="76.07" x2="425.6" y2="76.07" stroke="#7a7a7a" stroke-width="0.7200000000000001" />
<line x1="319.5" y1="74.71" x2="320.5" y2="74.71" stroke="#7a7a7a" stroke-width="0.7200000000000001" />
<line x1="426.6" y1="74.71" x2="425.6" y2="74.71" stroke="#7a7a7a" stroke-width="0.7200000000000001" />
<line x1="319.5" y1="65.51" x2="320.5" y2="65.51" stroke="#7a7a7a" stroke-width="0.7200000000000001" />
<line x1="426.6" y1="65.51" x2="425.6" y2="65.51" stroke="#7a7a7a" stroke-width="0.7200000000000001" />
<line x1="319.5" y1="60.83" x2="320.5" y2="60.83" stroke="#7a7a7a" stroke-width="0.7200000000000001" />
<line x1="426.6" y1="60.83" x2="425.6" y2="60.83" stroke="#7a7a7a" stroke-width="0.7200000000000001" />
<line x1="319.5" y1="57.52" x2="320.5" y2="57.52" stroke="#7a7a7a" stroke-width="0.7200000000000001" />
<line x1="426.6" y1="57.52" x2="425.6" y2="57.52" stroke="#7a7a7a" stroke-width="0.7200000000000001" />
<line x1="319.5" y1="54.94" x2="320.5" y2="54.94" stroke="#7a7a7a" stroke-width="0.7200000000000001" />
<line x1="426.6" y1="54.94" x2="425.6" y2="54.94" stroke="#7a7a7a" stroke-width="0.7200000000000001" />
<line x1="319.5" y1="52.84" x2="320.5" y2="52.84" stroke="#7a7a7a" stroke-width="0.7200000000000001" />
<line x1="426.6" y1="52.84" x2="425.6" y2="52.84" stroke="#7a7a7a" stroke-width="0.7200000000000001" />
<line x1="319.5" y1="51.06" x2="320.5" y2="51.06" stroke="#7a7a7a" stroke-width="0.7200000000000001" />
<line x1="426.6" y1="51.06" x2="425.6" y2="51.06" stroke="#7a7a7a" stroke-width="0.7200000000000001" />
<line x1="319.5" y1="49.52" x2="320.5" y2="49.52" stroke="#7a7a7a" stroke-width="0.7200000000000001" />
<line x1="426.6" y1="49.52" x2="425.6" y2="49.52" stroke="#7a7a7a" stroke-width="0.7200000000000001" />
<line x1="319.5" y1="48.16" x2="320.5" y2="48.16" stroke="#7a7a7a" stroke-width="0.7200000000000001" />
<line x1="426.6" y1="48.16" x2="425.6" y2="48.16" stroke="#7a7a7a" stroke-width="0.7200000000000001" />
<line x1="319.5" y1="38.96" x2="320.5" y2="38.96" stroke="#7a7a7a" stroke-width="0.7200000000000001" />
<line x1="426.6" y1="38.96" x2="425.6" y2="38.96" stroke="#7a7a7a" stroke-width="0.7200000000000001" />
<line x1="319.5" y1="34.28" x2="320.5" y2="34.28" stroke="#7a7a7a" stroke-width="0.7200000000000001" />
<line x1="426.6" y1="34.28" x2="425.6" y2="34.28" stroke="#7a7a7a" stroke-width="0.7200000000000001" />
<line x1="319.5" y1="30.97" x2="320.5" y2="30.97" stroke="#7a7a7a" stroke-width="0.7200000000000001" />
<line x1="426.6" y1="30.97" x2="425.6" y2="30.97" stroke="#7a7a7a" stroke-width="0.7200000000000001" />
<line x1="319.5" y1="28.39" x2="320.5" y2="28.39" stroke="#7a7a7a" stroke-width="0.7200000000000001" />
<line x1="426.6" y1="28.39" x2="425.6" y2="28.39" stroke="#7a7a7a" stroke-width="0.7200000000000001" />
<line x1="319.5" y1="26.29" x2="320.5" y2="26.29" stroke="#7a7a7a" stroke-width="0.7200000000000001" />
<line x1="426.6" y1="26.29" x2="425.6" y2="26.29" stroke="#7a7a7a" stroke-width="0.7200000000000001" />
<line x1="319.5" y1="24.51" x2="320.5" y2="24.51" stroke="#7a7a7a" stroke-width="0.7200000000000001" />
<line x1="426.6" y1="24.51" x2="425.6" y2="24.51" stroke="#7a7a7a" stroke-width="0.7200000000000001" />
<line x1="319.5" y1="22.97" x2="320.5" y2="22.97" stroke="#7a7a7a" stroke-width="0.7200000000000001" />
<line x1="426.6" y1="22.97" x2="425.6" y2="22.97" stroke="#7a7a7a" stroke-width="0.7200000000000001" />
<line x1="319.5" y1="21.61" x2="320.5" y2="21.61" stroke="#7a7a7a" stroke-width="0.7200000000000001" />
<line x1="426.6" y1="21.61" x2="425.6" y2="21.61" stroke="#7a7a7a" stroke-width="0.7200000000000001" />
<line x1="319.5" y1="12.41" x2="320.5" y2="12.41" stroke="#7a7a7a" stroke-width="0.7200000000000001" />
<line x1="426.6" y1="12.41" x2="425.6" y2="12.41" stroke="#7a7a7a" stroke-width="0.7200000000000001" />
<line x1="319.5" y1="7.73" x2="320.5" y2="7.73" stroke="#7a7a7a" stroke-width="0.7200000000000001" />
<line x1="426.6" y1="7.73" x2="425.6" y2="7.73" stroke="#7a7a7a" stroke-width="0.7200000000000001" />
<text x="319.5" y="92" font-size="7.8" text-anchor="middle" font-weight="bold" fill="#000" font-family='"Liberation Sans", sans-serif' font-style="normal"  stroke="#000" stroke-width="0.3">0.0</text>
<text x="346" y="92" font-size="7.8" text-anchor="middle" font-weight="bold" fill="#000" font-family='"Liberation Sans", sans-serif' font-style="normal"  stroke="#000" stroke-width="0.3">0.2</text>
<text x="372.5" y="92" font-size="7.8" text-anchor="middle" font-weight="bold" fill="#000" font-family='"Liberation Sans", sans-serif' font-style="normal"  stroke="#000" stroke-width="0.3">0.4</text>
<text x="399" y="92" font-size="7.8" text-anchor="middle" font-weight="bold" fill="#000" font-family='"Liberation Sans", sans-serif' font-style="normal"  stroke="#000" stroke-width="0.3">0.6</text>
<text x="425.5" y="92" font-size="7.8" text-anchor="middle" font-weight="bold" fill="#000" font-family='"Liberation Sans", sans-serif' font-style="normal"  stroke="#000" stroke-width="0.3">0.8</text>
<text x="312.2" y="23.6" font-size="7.5" text-anchor="end" font-weight="bold" fill="#000" font-family='"Liberation Sans", sans-serif' font-style="normal"  stroke="#000" stroke-width="0.3">10</text>
<text x="312.6" y="19.8" font-size="4.8" text-anchor="start" font-weight="bold" fill="#000" font-family='"Liberation Sans", sans-serif' font-style="normal"  stroke="#000" stroke-width="0.3">-4</text>
<text x="312.2" y="50.15" font-size="7.5" text-anchor="end" font-weight="bold" fill="#000" font-family='"Liberation Sans", sans-serif' font-style="normal"  stroke="#000" stroke-width="0.3">10</text>
<text x="312.6" y="46.35" font-size="4.8" text-anchor="start" font-weight="bold" fill="#000" font-family='"Liberation Sans", sans-serif' font-style="normal"  stroke="#000" stroke-width="0.3">-5</text>
<text x="312.2" y="76.7" font-size="7.5" text-anchor="end" font-weight="bold" fill="#000" font-family='"Liberation Sans", sans-serif' font-style="normal"  stroke="#000" stroke-width="0.3">10</text>
<text x="312.6" y="72.9" font-size="4.8" text-anchor="start" font-weight="bold" fill="#000" font-family='"Liberation Sans", sans-serif' font-style="normal"  stroke="#000" stroke-width="0.3">-6</text>
<text x="360" y="102.2" font-size="9.8" font-weight="bold" font-family='"Liberation Sans", sans-serif' stroke="#000" stroke-width="0.3"><tspan font-style="italic" font-size="10.19">V</tspan><tspan font-size="5.49" dy="4.12" dx="-0.5">D</tspan><tspan dy="-4.12" dx="2.94">(V)</tspan></text>
<text transform="translate(300,50) rotate(-90) scale(1.1,1)" text-anchor="middle" font-size="10.0" font-weight="bold" font-family='"Liberation Sans", sans-serif' stroke="#000" stroke-width="0.3"><tspan font-style="italic">I</tspan><tspan font-size="6.20" dy="2.80">DS</tspan><tspan dy="-2.80" dx="1.80">(A)</tspan></text>
<text x="293.3" y="12.6" font-size="11.7" text-anchor="start" font-weight="bold" fill="#000" font-family='"Liberation Serif", serif' font-style="normal"  stroke="#000" stroke-width="0.3">(c)</text>
<polyline points="321.5,83.8 326.5,61.6 332.6,52.3 339.4,47.7 346.1,43.8 352.8,40.3 359.4,37.6 366.1,34.8 372.9,34.1 379.3,21.2 386.2,20.4 392.8,19.4 399.3,18.4 406.3,17.4 412.9,16.6 419.4,16.2 425.5,15.8" fill="none" stroke="#333" stroke-width="0.7" stroke-linejoin="round" />
<polyline points="321,83.8 326,51.8 332.6,44 339.4,38.2 346.1,34.5 352.8,30.4 359.4,26.7 366.1,24.9 372.9,23.4 379.3,21.6 386.2,17.4 392.8,16.7 399.3,16 406.3,15.4 412.9,15.1 419.4,15 425.5,14.8" fill="none" stroke="#a0a020" stroke-width="0.8" stroke-linejoin="round" />
<polyline points="320.6,83.8 326,43.7 332.6,35.4 339.4,31.3 346.1,27.9 352.8,25.2 359.4,23.4 366.1,21.8 372.9,20.5 379.3,21.2 386.2,20.4 392.8,19.4 399.3,18.4 406.3,17.4 412.9,16.6 419.4,16.2 425.5,15.8" fill="none" stroke="#222" stroke-width="1.2" stroke-linejoin="round" />
<polyline points="320.3,83.8 326,43.1 332.6,34.8 339.4,30.7 346.1,27.3 352.8,24.6 359.4,22.8 366.1,21.2 372.9,19.9 379.3,18.5 386.2,17.4 392.8,16.7 399.3,16 406.3,15.4 412.9,15.1 419.4,15 425.5,14.8" fill="none" stroke="#a0a020" stroke-width="1.2" stroke-linejoin="round" />
<circle cx="326" cy="43.7" r="1.6" fill="none" stroke="#333" stroke-width="0.7"/>
<circle cx="332.6" cy="35.4" r="1.6" fill="none" stroke="#333" stroke-width="0.7"/>
<circle cx="339.4" cy="31.3" r="1.6" fill="none" stroke="#333" stroke-width="0.7"/>
<circle cx="346.1" cy="27.9" r="1.6" fill="none" stroke="#333" stroke-width="0.7"/>
<circle cx="352.8" cy="25.2" r="1.6" fill="none" stroke="#333" stroke-width="0.7"/>
<circle cx="359.4" cy="23.4" r="1.6" fill="none" stroke="#333" stroke-width="0.7"/>
<circle cx="366.1" cy="21.8" r="1.6" fill="none" stroke="#333" stroke-width="0.7"/>
<circle cx="372.9" cy="20.5" r="1.6" fill="none" stroke="#333" stroke-width="0.7"/>
<circle cx="379.3" cy="21.2" r="1.6" fill="none" stroke="#333" stroke-width="0.7"/>
<circle cx="386.2" cy="20.4" r="1.6" fill="none" stroke="#333" stroke-width="0.7"/>
<circle cx="392.8" cy="19.4" r="1.6" fill="none" stroke="#333" stroke-width="0.7"/>
<circle cx="399.3" cy="18.4" r="1.6" fill="none" stroke="#333" stroke-width="0.7"/>
<circle cx="406.3" cy="17.4" r="1.6" fill="none" stroke="#333" stroke-width="0.7"/>
<circle cx="412.9" cy="16.6" r="1.6" fill="none" stroke="#333" stroke-width="0.7"/>
<circle cx="419.4" cy="16.2" r="1.6" fill="none" stroke="#333" stroke-width="0.7"/>
<circle cx="425.5" cy="15.8" r="1.6" fill="none" stroke="#333" stroke-width="0.7"/>
<circle cx="326" cy="43.1" r="1.6" fill="none" stroke="#a0a020" stroke-width="0.8"/>
<circle cx="332.6" cy="34.8" r="1.6" fill="none" stroke="#a0a020" stroke-width="0.8"/>
<circle cx="339.4" cy="30.7" r="1.6" fill="none" stroke="#a0a020" stroke-width="0.8"/>
<circle cx="346.1" cy="27.3" r="1.6" fill="none" stroke="#a0a020" stroke-width="0.8"/>
<circle cx="352.8" cy="24.6" r="1.6" fill="none" stroke="#a0a020" stroke-width="0.8"/>
<circle cx="359.4" cy="22.8" r="1.6" fill="none" stroke="#a0a020" stroke-width="0.8"/>
<circle cx="366.1" cy="21.2" r="1.6" fill="none" stroke="#a0a020" stroke-width="0.8"/>
<circle cx="372.9" cy="19.9" r="1.6" fill="none" stroke="#a0a020" stroke-width="0.8"/>
<circle cx="379.3" cy="18.5" r="1.6" fill="none" stroke="#a0a020" stroke-width="0.8"/>
<circle cx="386.2" cy="17.4" r="1.6" fill="none" stroke="#a0a020" stroke-width="0.8"/>
<circle cx="392.8" cy="16.7" r="1.6" fill="none" stroke="#a0a020" stroke-width="0.8"/>
<circle cx="399.3" cy="16" r="1.6" fill="none" stroke="#a0a020" stroke-width="0.8"/>
<circle cx="406.3" cy="15.4" r="1.6" fill="none" stroke="#a0a020" stroke-width="0.8"/>
<circle cx="412.9" cy="15.1" r="1.6" fill="none" stroke="#a0a020" stroke-width="0.8"/>
<circle cx="419.4" cy="15" r="1.6" fill="none" stroke="#a0a020" stroke-width="0.8"/>
<circle cx="425.5" cy="14.8" r="1.6" fill="none" stroke="#a0a020" stroke-width="0.8"/>
<circle cx="326" cy="51.8" r="1.6" fill="none" stroke="#2020ff" stroke-width="0.7"/>
<circle cx="332.6" cy="44" r="1.6" fill="none" stroke="#2020ff" stroke-width="0.7"/>
<circle cx="339.4" cy="38.2" r="1.6" fill="none" stroke="#2020ff" stroke-width="0.7"/>
<circle cx="346.1" cy="34.5" r="1.6" fill="none" stroke="#2020ff" stroke-width="0.7"/>
<circle cx="352.8" cy="30.4" r="1.6" fill="none" stroke="#2020ff" stroke-width="0.7"/>
<circle cx="359.4" cy="26.7" r="1.6" fill="none" stroke="#2020ff" stroke-width="0.7"/>
<circle cx="366.1" cy="24.9" r="1.6" fill="none" stroke="#2020ff" stroke-width="0.7"/>
<circle cx="372.9" cy="23.4" r="1.6" fill="none" stroke="#2020ff" stroke-width="0.7"/>
<circle cx="326.5" cy="61.6" r="1.6" fill="none" stroke="#ff2020" stroke-width="0.7"/>
<circle cx="332.6" cy="52.3" r="1.6" fill="none" stroke="#ff2020" stroke-width="0.7"/>
<circle cx="339.4" cy="47.7" r="1.6" fill="none" stroke="#ff2020" stroke-width="0.7"/>
<circle cx="346.1" cy="43.8" r="1.6" fill="none" stroke="#ff2020" stroke-width="0.7"/>
<circle cx="352.8" cy="40.3" r="1.6" fill="none" stroke="#ff2020" stroke-width="0.7"/>
<circle cx="359.4" cy="37.6" r="1.6" fill="none" stroke="#ff2020" stroke-width="0.7"/>
<circle cx="366.1" cy="34.8" r="1.6" fill="none" stroke="#ff2020" stroke-width="0.7"/>
<circle cx="372.9" cy="34.1" r="1.6" fill="none" stroke="#444" stroke-width="0.7"/>
<line x1="322.4" y1="10.2" x2="330.6" y2="10.2" stroke="#000" stroke-width="0.8" />
<circle cx="326.3" cy="10.2" r="1.4" fill="none" stroke="#000" stroke-width="0.7"/>
<text x="332.5" y="12.6" font-size="7.0" text-anchor="start" font-weight="bold" fill="#000" font-family='"Liberation Sans", sans-serif' font-style="normal"  stroke="#000" stroke-width="0.3">H5</text>
<line x1="322.4" y1="18.3" x2="330.6" y2="18.3" stroke="#a0a020" stroke-width="0.8" />
<circle cx="326.3" cy="18.3" r="1.4" fill="none" stroke="#a0a020" stroke-width="0.7"/>
<text x="332.5" y="20.7" font-size="7.0" text-anchor="start" font-weight="bold" fill="#8f8f1a" font-family='"Liberation Sans", sans-serif' font-style="normal"  stroke="#8f8f1a" stroke-width="0.3">H3A1.5</text>
<line x1="376.3" y1="71.9" x2="384" y2="71.9" stroke="#000" stroke-width="0.8" />
<circle cx="380.3" cy="71.9" r="1.3" fill="none" stroke="#ff2020" stroke-width="0.7"/>
<text x="387" y="74.2" font-size="6.4" text-anchor="start" font-weight="bold" fill="#ff2020" font-family='"Liberation Sans", sans-serif' font-style="normal"  stroke="#ff2020" stroke-width="0.3">H5 HRS</text>
<line x1="376.3" y1="78.7" x2="384" y2="78.7" stroke="#a0a020" stroke-width="0.8" />
<circle cx="380.3" cy="78.7" r="1.3" fill="none" stroke="#2020ff" stroke-width="0.7"/>
<text x="387" y="81" font-size="6.4" text-anchor="start" font-weight="bold" fill="#2020ff" font-family='"Liberation Sans", sans-serif' font-style="normal"  stroke="#2020ff" stroke-width="0.3">H3A1.5 HRS</text>
<text x="329.5" y="82.2" font-size="9.2" font-weight="bold" fill="#ff2020" font-family='"Liberation Sans", sans-serif' stroke="#ff2020" stroke-width="0.3">50<tspan font-size="5.8" dy="-3.6">th</tspan><tspan dy="3.6" dx="2.8">Set</tspan></text>
<rect x="461.8" y="3.3" width="112.4" height="82.9" fill="none" stroke="#7a7a7a" stroke-width="0.9"/>
<line x1="480.8" y1="86.2" x2="480.8" y2="84.2" stroke="#7a7a7a" stroke-width="0.81" />
<line x1="480.8" y1="3.3" x2="480.8" y2="5.3" stroke="#7a7a7a" stroke-width="0.81" />
<line x1="518.1" y1="86.2" x2="518.1" y2="84.2" stroke="#7a7a7a" stroke-width="0.81" />
<line x1="518.1" y1="3.3" x2="518.1" y2="5.3" stroke="#7a7a7a" stroke-width="0.81" />
<line x1="555.4" y1="86.2" x2="555.4" y2="84.2" stroke="#7a7a7a" stroke-width="0.81" />
<line x1="555.4" y1="3.3" x2="555.4" y2="5.3" stroke="#7a7a7a" stroke-width="0.81" />
<line x1="462.15" y1="86.2" x2="462.15" y2="85" stroke="#7a7a7a" stroke-width="0.7200000000000001" />
<line x1="462.15" y1="3.3" x2="462.15" y2="4.5" stroke="#7a7a7a" stroke-width="0.7200000000000001" />
<line x1="499.45" y1="86.2" x2="499.45" y2="85" stroke="#7a7a7a" stroke-width="0.7200000000000001" />
<line x1="499.45" y1="3.3" x2="499.45" y2="4.5" stroke="#7a7a7a" stroke-width="0.7200000000000001" />
<line x1="536.75" y1="86.2" x2="536.75" y2="85" stroke="#7a7a7a" stroke-width="0.7200000000000001" />
<line x1="536.75" y1="3.3" x2="536.75" y2="4.5" stroke="#7a7a7a" stroke-width="0.7200000000000001" />
<line x1="574.05" y1="86.2" x2="574.05" y2="85" stroke="#7a7a7a" stroke-width="0.7200000000000001" />
<line x1="574.05" y1="3.3" x2="574.05" y2="4.5" stroke="#7a7a7a" stroke-width="0.7200000000000001" />
<line x1="461.8" y1="24" x2="463.8" y2="24" stroke="#7a7a7a" stroke-width="0.81" />
<line x1="574.2" y1="24" x2="572.2" y2="24" stroke="#7a7a7a" stroke-width="0.81" />
<line x1="461.8" y1="51.7" x2="463.8" y2="51.7" stroke="#7a7a7a" stroke-width="0.81" />
<line x1="574.2" y1="51.7" x2="572.2" y2="51.7" stroke="#7a7a7a" stroke-width="0.81" />
<line x1="461.8" y1="79.4" x2="463.8" y2="79.4" stroke="#7a7a7a" stroke-width="0.81" />
<line x1="574.2" y1="79.4" x2="572.2" y2="79.4" stroke="#7a7a7a" stroke-width="0.81" />
<line x1="461.8" y1="10.15" x2="463" y2="10.15" stroke="#7a7a7a" stroke-width="0.7200000000000001" />
<line x1="574.2" y1="10.15" x2="573" y2="10.15" stroke="#7a7a7a" stroke-width="0.7200000000000001" />
<line x1="461.8" y1="37.85" x2="463" y2="37.85" stroke="#7a7a7a" stroke-width="0.7200000000000001" />
<line x1="574.2" y1="37.85" x2="573" y2="37.85" stroke="#7a7a7a" stroke-width="0.7200000000000001" />
<line x1="461.8" y1="65.55" x2="463" y2="65.55" stroke="#7a7a7a" stroke-width="0.7200000000000001" />
<line x1="574.2" y1="65.55" x2="573" y2="65.55" stroke="#7a7a7a" stroke-width="0.7200000000000001" />
<text x="480.8" y="94" font-size="7.8" text-anchor="middle" font-weight="bold" fill="#000" font-family='"Liberation Sans", sans-serif' font-style="normal"  stroke="#000" stroke-width="0.3">-3</text>
<text x="518.1" y="94" font-size="7.8" text-anchor="middle" font-weight="bold" fill="#000" font-family='"Liberation Sans", sans-serif' font-style="normal"  stroke="#000" stroke-width="0.3">-2</text>
<text x="555.4" y="94" font-size="7.8" text-anchor="middle" font-weight="bold" fill="#000" font-family='"Liberation Sans", sans-serif' font-style="normal"  stroke="#000" stroke-width="0.3">-1</text>
<text x="459.6" y="26.73" font-size="7.8" text-anchor="end" font-weight="bold" fill="#000" font-family='"Liberation Sans", sans-serif' font-style="normal"  stroke="#000" stroke-width="0.3">-10</text>
<text x="459.6" y="54.43" font-size="7.8" text-anchor="end" font-weight="bold" fill="#000" font-family='"Liberation Sans", sans-serif' font-style="normal"  stroke="#000" stroke-width="0.3">-12</text>
<text x="459.6" y="82.13" font-size="7.8" text-anchor="end" font-weight="bold" fill="#000" font-family='"Liberation Sans", sans-serif' font-style="normal"  stroke="#000" stroke-width="0.3">-14</text>
<polyline points="499.6,45.9 566.3,12.6" fill="none" stroke="#2020ff" stroke-width="0.8" stroke-linejoin="round" />
<circle cx="507" cy="41.7" r="1.6" fill="none" stroke="#2020ff" stroke-width="0.7"/>
<circle cx="522.2" cy="35.2" r="1.6" fill="none" stroke="#2020ff" stroke-width="0.7"/>
<circle cx="533" cy="29.6" r="1.6" fill="none" stroke="#2020ff" stroke-width="0.7"/>
<circle cx="541.7" cy="25.6" r="1.6" fill="none" stroke="#2020ff" stroke-width="0.7"/>
<circle cx="548.3" cy="20.9" r="1.6" fill="none" stroke="#2020ff" stroke-width="0.7"/>
<circle cx="554.3" cy="18.5" r="1.6" fill="none" stroke="#2020ff" stroke-width="0.7"/>
<circle cx="559.3" cy="16.7" r="1.6" fill="none" stroke="#2020ff" stroke-width="0.7"/>
<circle cx="563.9" cy="13.5" r="1.6" fill="none" stroke="#2020ff" stroke-width="0.7"/>
<polyline points="476.3,71.5 553.3,42" fill="none" stroke="#ff2020" stroke-width="0.8" stroke-linejoin="round" />
<circle cx="480.8" cy="68.8" r="1.6" fill="none" stroke="#ff2020" stroke-width="0.7"/>
<circle cx="506.5" cy="59.8" r="1.6" fill="none" stroke="#ff2020" stroke-width="0.7"/>
<circle cx="522.2" cy="53.7" r="1.6" fill="none" stroke="#ff2020" stroke-width="0.7"/>
<circle cx="533" cy="49.4" r="1.6" fill="none" stroke="#ff2020" stroke-width="0.7"/>
<circle cx="541.7" cy="46.3" r="1.6" fill="none" stroke="#ff2020" stroke-width="0.7"/>
<circle cx="548.3" cy="44.1" r="1.6" fill="none" stroke="#ff2020" stroke-width="0.7"/>
<text x="466.1" y="14.2" font-size="9.2" font-weight="bold" fill="#000" font-family='"Liberation Sans", sans-serif' word-spacing="1.5" letter-spacing="0" stroke="#000" stroke-width="0.3">Ionic conduction</text>
<text transform="translate(444.4,50.9) rotate(-90)" font-size="9.4" text-anchor="middle" font-weight="bold" fill="#000" font-family='"Liberation Sans", sans-serif'  stroke="#000" stroke-width="0.3">ln (I)</text>
<text x="506" y="104.4" font-size="9.5" text-anchor="start" font-weight="bold" fill="#000" font-family='"Liberation Sans", sans-serif' font-style="normal"  stroke="#000" stroke-width="0.3">ln (V)</text>
<text x="434.3" y="13" font-size="11.7" text-anchor="start" font-weight="bold" fill="#000" font-family='"Liberation Serif", serif' font-style="normal"  stroke="#000" stroke-width="0.3">(d)</text>
<rect x="30.5" y="109.3" width="109.5" height="80.7" fill="none" stroke="#7a7a7a" stroke-width="0.9"/>
<line x1="30.5" y1="190" x2="30.5" y2="188" stroke="#7a7a7a" stroke-width="0.81" />
<line x1="30.5" y1="109.3" x2="30.5" y2="111.3" stroke="#7a7a7a" stroke-width="0.81" />
<line x1="64" y1="190" x2="64" y2="188" stroke="#7a7a7a" stroke-width="0.81" />
<line x1="64" y1="109.3" x2="64" y2="111.3" stroke="#7a7a7a" stroke-width="0.81" />
<line x1="97.5" y1="190" x2="97.5" y2="188" stroke="#7a7a7a" stroke-width="0.81" />
<line x1="97.5" y1="109.3" x2="97.5" y2="111.3" stroke="#7a7a7a" stroke-width="0.81" />
<line x1="131" y1="190" x2="131" y2="188" stroke="#7a7a7a" stroke-width="0.81" />
<line x1="131" y1="109.3" x2="131" y2="111.3" stroke="#7a7a7a" stroke-width="0.81" />
<line x1="47.25" y1="190" x2="47.25" y2="189" stroke="#7a7a7a" stroke-width="0.7200000000000001" />
<line x1="47.25" y1="109.3" x2="47.25" y2="110.3" stroke="#7a7a7a" stroke-width="0.7200000000000001" />
<line x1="80.75" y1="190" x2="80.75" y2="189" stroke="#7a7a7a" stroke-width="0.7200000000000001" />
<line x1="80.75" y1="109.3" x2="80.75" y2="110.3" stroke="#7a7a7a" stroke-width="0.7200000000000001" />
<line x1="114.25" y1="190" x2="114.25" y2="189" stroke="#7a7a7a" stroke-width="0.7200000000000001" />
<line x1="114.25" y1="109.3" x2="114.25" y2="110.3" stroke="#7a7a7a" stroke-width="0.7200000000000001" />
<line x1="30.5" y1="126.3" x2="32.5" y2="126.3" stroke="#7a7a7a" stroke-width="0.81" />
<line x1="140" y1="126.3" x2="138" y2="126.3" stroke="#7a7a7a" stroke-width="0.81" />
<line x1="30.5" y1="154.3" x2="32.5" y2="154.3" stroke="#7a7a7a" stroke-width="0.81" />
<line x1="140" y1="154.3" x2="138" y2="154.3" stroke="#7a7a7a" stroke-width="0.81" />
<line x1="30.5" y1="182.3" x2="32.5" y2="182.3" stroke="#7a7a7a" stroke-width="0.81" />
<line x1="140" y1="182.3" x2="138" y2="182.3" stroke="#7a7a7a" stroke-width="0.81" />
<line x1="30.5" y1="188.51" x2="31.5" y2="188.51" stroke="#7a7a7a" stroke-width="0.7200000000000001" />
<line x1="140" y1="188.51" x2="139" y2="188.51" stroke="#7a7a7a" stroke-width="0.7200000000000001" />
<line x1="30.5" y1="186.64" x2="31.5" y2="186.64" stroke="#7a7a7a" stroke-width="0.7200000000000001" />
<line x1="140" y1="186.64" x2="139" y2="186.64" stroke="#7a7a7a" stroke-width="0.7200000000000001" />
<line x1="30.5" y1="185.01" x2="31.5" y2="185.01" stroke="#7a7a7a" stroke-width="0.7200000000000001" />
<line x1="140" y1="185.01" x2="139" y2="185.01" stroke="#7a7a7a" stroke-width="0.7200000000000001" />
<line x1="30.5" y1="183.58" x2="31.5" y2="183.58" stroke="#7a7a7a" stroke-width="0.7200000000000001" />
<line x1="140" y1="183.58" x2="139" y2="183.58" stroke="#7a7a7a" stroke-width="0.7200000000000001" />
<line x1="30.5" y1="173.87" x2="31.5" y2="173.87" stroke="#7a7a7a" stroke-width="0.7200000000000001" />
<line x1="140" y1="173.87" x2="139" y2="173.87" stroke="#7a7a7a" stroke-width="0.7200000000000001" />
<line x1="30.5" y1="168.94" x2="31.5" y2="168.94" stroke="#7a7a7a" stroke-width="0.7200000000000001" />
<line x1="140" y1="168.94" x2="139" y2="168.94" stroke="#7a7a7a" stroke-width="0.7200000000000001" />
<line x1="30.5" y1="165.44" x2="31.5" y2="165.44" stroke="#7a7a7a" stroke-width="0.7200000000000001" />
<line x1="140" y1="165.44" x2="139" y2="165.44" stroke="#7a7a7a" stroke-width="0.7200000000000001" />
<line x1="30.5" y1="162.73" x2="31.5" y2="162.73" stroke="#7a7a7a" stroke-width="0.7200000000000001" />
<line x1="140" y1="162.73" x2="139" y2="162.73" stroke="#7a7a7a" stroke-width="0.7200000000000001" />
<line x1="30.5" y1="160.51" x2="31.5" y2="160.51" stroke="#7a7a7a" stroke-width="0.7200000000000001" />
<line x1="140" y1="160.51" x2="139" y2="160.51" stroke="#7a7a7a" stroke-width="0.7200000000000001" />
<line x1="30.5" y1="158.64" x2="31.5" y2="158.64" stroke="#7a7a7a" stroke-width="0.7200000000000001" />
<line x1="140" y1="158.64" x2="139" y2="158.64" stroke="#7a7a7a" stroke-width="0.7200000000000001" />
<line x1="30.5" y1="157.01" x2="31.5" y2="157.01" stroke="#7a7a7a" stroke-width="0.7200000000000001" />
<line x1="140" y1="157.01" x2="139" y2="157.01" stroke="#7a7a7a" stroke-width="0.7200000000000001" />
<line x1="30.5" y1="155.58" x2="31.5" y2="155.58" stroke="#7a7a7a" stroke-width="0.7200000000000001" />
<line x1="140" y1="155.58" x2="139" y2="155.58" stroke="#7a7a7a" stroke-width="0.7200000000000001" />
<line x1="30.5" y1="145.87" x2="31.5" y2="145.87" stroke="#7a7a7a" stroke-width="0.7200000000000001" />
<line x1="140" y1="145.87" x2="139" y2="145.87" stroke="#7a7a7a" stroke-width="0.7200000000000001" />
<line x1="30.5" y1="140.94" x2="31.5" y2="140.94" stroke="#7a7a7a" stroke-width="0.7200000000000001" />
<line x1="140" y1="140.94" x2="139" y2="140.94" stroke="#7a7a7a" stroke-width="0.7200000000000001" />
<line x1="30.5" y1="137.44" x2="31.5" y2="137.44" stroke="#7a7a7a" stroke-width="0.7200000000000001" />
<line x1="140" y1="137.44" x2="139" y2="137.44" stroke="#7a7a7a" stroke-width="0.7200000000000001" />
<line x1="30.5" y1="134.73" x2="31.5" y2="134.73" stroke="#7a7a7a" stroke-width="0.7200000000000001" />
<line x1="140" y1="134.73" x2="139" y2="134.73" stroke="#7a7a7a" stroke-width="0.7200000000000001" />
<line x1="30.5" y1="132.51" x2="31.5" y2="132.51" stroke="#7a7a7a" stroke-width="0.7200000000000001" />
<line x1="140" y1="132.51" x2="139" y2="132.51" stroke="#7a7a7a" stroke-width="0.7200000000000001" />
<line x1="30.5" y1="130.64" x2="31.5" y2="130.64" stroke="#7a7a7a" stroke-width="0.7200000000000001" />
<line x1="140" y1="130.64" x2="139" y2="130.64" stroke="#7a7a7a" stroke-width="0.7200000000000001" />
<line x1="30.5" y1="129.01" x2="31.5" y2="129.01" stroke="#7a7a7a" stroke-width="0.7200000000000001" />
<line x1="140" y1="129.01" x2="139" y2="129.01" stroke="#7a7a7a" stroke-width="0.7200000000000001" />
<line x1="30.5" y1="127.58" x2="31.5" y2="127.58" stroke="#7a7a7a" stroke-width="0.7200000000000001" />
<line x1="140" y1="127.58" x2="139" y2="127.58" stroke="#7a7a7a" stroke-width="0.7200000000000001" />
<line x1="30.5" y1="117.87" x2="31.5" y2="117.87" stroke="#7a7a7a" stroke-width="0.7200000000000001" />
<line x1="140" y1="117.87" x2="139" y2="117.87" stroke="#7a7a7a" stroke-width="0.7200000000000001" />
<line x1="30.5" y1="112.94" x2="31.5" y2="112.94" stroke="#7a7a7a" stroke-width="0.7200000000000001" />
<line x1="140" y1="112.94" x2="139" y2="112.94" stroke="#7a7a7a" stroke-width="0.7200000000000001" />
<text x="30.5" y="198.6" font-size="7.8" text-anchor="middle" font-weight="bold" fill="#000" font-family='"Liberation Sans", sans-serif' font-style="normal"  stroke="#000" stroke-width="0.3">0.0</text>
<text x="64" y="198.6" font-size="7.8" text-anchor="middle" font-weight="bold" fill="#000" font-family='"Liberation Sans", sans-serif' font-style="normal"  stroke="#000" stroke-width="0.3">0.5</text>
<text x="97.5" y="198.6" font-size="7.8" text-anchor="middle" font-weight="bold" fill="#000" font-family='"Liberation Sans", sans-serif' font-style="normal"  stroke="#000" stroke-width="0.3">1.0</text>
<text x="131" y="198.6" font-size="7.8" text-anchor="middle" font-weight="bold" fill="#000" font-family='"Liberation Sans", sans-serif' font-style="normal"  stroke="#000" stroke-width="0.3">1.5</text>
<text x="22.8" y="129.5" font-size="7.5" text-anchor="end" font-weight="bold" fill="#000" font-family='"Liberation Sans", sans-serif' font-style="normal"  stroke="#000" stroke-width="0.3">10</text>
<text x="23.2" y="125.7" font-size="4.8" text-anchor="start" font-weight="bold" fill="#000" font-family='"Liberation Sans", sans-serif' font-style="normal"  stroke="#000" stroke-width="0.3">-4</text>
<text x="22.8" y="157.5" font-size="7.5" text-anchor="end" font-weight="bold" fill="#000" font-family='"Liberation Sans", sans-serif' font-style="normal"  stroke="#000" stroke-width="0.3">10</text>
<text x="23.2" y="153.7" font-size="4.8" text-anchor="start" font-weight="bold" fill="#000" font-family='"Liberation Sans", sans-serif' font-style="normal"  stroke="#000" stroke-width="0.3">-5</text>
<text x="22.8" y="185.5" font-size="7.5" text-anchor="end" font-weight="bold" fill="#000" font-family='"Liberation Sans", sans-serif' font-style="normal"  stroke="#000" stroke-width="0.3">10</text>
<text x="23.2" y="181.7" font-size="4.8" text-anchor="start" font-weight="bold" fill="#000" font-family='"Liberation Sans", sans-serif' font-style="normal"  stroke="#000" stroke-width="0.3">-6</text>
<text x="72.2" y="209.6" font-size="9.8" font-weight="bold" font-family='"Liberation Sans", sans-serif' stroke="#000" stroke-width="0.3"><tspan font-style="italic" font-size="10.19">V</tspan><tspan font-size="5.49" dy="4.12" dx="-0.5">S</tspan><tspan dy="-4.12" dx="2.94">(V)</tspan></text>
<text transform="translate(10.4,155.4) rotate(-90) scale(1.1,1)" text-anchor="middle" font-size="10.0" font-weight="bold" font-family='"Liberation Sans", sans-serif' stroke="#000" stroke-width="0.3"><tspan font-style="italic">I</tspan><tspan font-size="6.20" dy="2.80">DS</tspan><tspan dy="-2.80" dx="1.80">(A)</tspan></text>
<text x="2.6" y="119.4" font-size="11.7" text-anchor="start" font-weight="normal" fill="#000" font-family='"Liberation Serif", serif' font-style="normal"  stroke="#000" stroke-width="0.3">(e)</text>
<polyline points="33.4,154.8 37,146.3 40.3,140.9 43.7,137.8 47.3,135 50.8,132.8 54.2,130.8 57.3,129.3 60.7,127.7 64.3,126.2 67.8,124.7 71.2,123.9 74.3,124.7 77.4,125.4 80.5,128.5 83.7,130.5 87,131 90.3,131.5 93.7,132 97,133 100,129 103.3,131 106.6,133 110,134 113.3,133 116.6,134 120,133 123.3,134 126.6,133.5 130,132 133.3,133 136.6,134" fill="none" stroke="#555" stroke-width="0.6" stroke-linejoin="round" />
<polyline points="33.9,148.3 36.5,141.5 40,134.7 43.4,131.6 46.8,128.8 50.4,126.7 53.9,125 57,123.6 60.4,122 63.8,120.8 67.2,120 70.6,119.4 74,119.7 77.4,120.6 80.4,125.6 83.6,128 87,129 90.3,129.5 93.7,129.8 96.7,132.7 100,132.7 103.2,130.5 106.6,132 110.3,130.5 113.3,128 117,132 120.4,132.7 123.6,131.2 127.3,129.8 130.7,132.7 134,133.5 136.9,134.2" fill="none" stroke="#a0a020" stroke-width="0.6" stroke-linejoin="round" />
<polyline points="33.6,178.5 37.3,168.9 40.5,171.6 43.7,167.6 46.9,162.2 50.5,161.2 53.7,157.3 56.9,154.8 60.1,153 63.3,151 66.8,149 70,147.3 73.3,145.7 76.5,144.3 79.7,143.2 83,142.6 86.3,142 89.6,141.3 92.9,140.7 96.2,140 99.5,139.3 102.8,138.5 106.1,137.4 109.4,135.5 112.7,135 116,134.5 119.3,135 122.6,134.5 125.9,134 129.2,135 132.5,134.5 135.8,135" fill="none" stroke="#a0a020" stroke-width="0.6" stroke-linejoin="round" />
<polyline points="35.5,189.7 36.8,189 40,182.3 43.2,178.6 46.9,175.6 50.2,172.6 53.7,170 56.9,167.6 60.4,165.2 63.6,163.3 66.8,161.5 70.1,159.6 73.3,157.4 76.5,155 79.7,153 83,151.2 86.3,149.4 89.6,147.8 92.9,146.3 96.2,144.9 99.5,143.1 102.8,143 106.1,142.8 109.4,142.9 112.7,142.6 116,142.8 119.3,142.5 122.6,142.9 125.9,142.6 129.2,142.8 132.5,142.5 135.8,142.9" fill="none" stroke="#333" stroke-width="0.6" stroke-linejoin="round" />
<circle cx="99.5" cy="143.1" r="1.55" fill="#111"/>
<circle cx="102.8" cy="143" r="1.55" fill="#111"/>
<circle cx="106.1" cy="142.8" r="1.55" fill="#111"/>
<circle cx="109.4" cy="142.9" r="1.55" fill="#111"/>
<circle cx="112.7" cy="142.6" r="1.55" fill="#111"/>
<circle cx="116" cy="142.8" r="1.55" fill="#111"/>
<circle cx="119.3" cy="142.5" r="1.55" fill="#111"/>
<circle cx="122.6" cy="142.9" r="1.55" fill="#111"/>
<circle cx="125.9" cy="142.6" r="1.55" fill="#111"/>
<circle cx="129.2" cy="142.8" r="1.55" fill="#111"/>
<circle cx="132.5" cy="142.5" r="1.55" fill="#111"/>
<circle cx="135.8" cy="142.9" r="1.55" fill="#111"/>
<circle cx="76.5" cy="155" r="1.55" fill="#2ea02e"/>
<circle cx="79.7" cy="153" r="1.55" fill="#2ea02e"/>
<circle cx="83" cy="151.2" r="1.55" fill="#2ea02e"/>
<circle cx="86.3" cy="149.4" r="1.55" fill="#2ea02e"/>
<circle cx="89.6" cy="147.8" r="1.55" fill="#2ea02e"/>
<circle cx="92.9" cy="146.3" r="1.55" fill="#2ea02e"/>
<circle cx="96.2" cy="144.9" r="1.55" fill="#2ea02e"/>
<circle cx="36.8" cy="189" r="1.55" fill="#ff2cff"/>
<circle cx="40" cy="182.3" r="1.55" fill="#ff2cff"/>
<circle cx="43.2" cy="178.6" r="1.55" fill="#ff2cff"/>
<circle cx="46.9" cy="175.6" r="1.55" fill="#ff2cff"/>
<circle cx="50.2" cy="172.6" r="1.55" fill="#ff2cff"/>
<circle cx="53.7" cy="170" r="1.55" fill="#ff2cff"/>
<circle cx="56.9" cy="167.6" r="1.55" fill="#ff2cff"/>
<circle cx="60.4" cy="165.2" r="1.55" fill="#ff2cff"/>
<circle cx="63.6" cy="163.3" r="1.55" fill="#ff2cff"/>
<circle cx="66.8" cy="161.5" r="1.55" fill="#ff2cff"/>
<circle cx="70.1" cy="159.6" r="1.55" fill="#ff2cff"/>
<circle cx="73.3" cy="157.4" r="1.55" fill="#ff2cff"/>
<circle cx="79.7" cy="143.2" r="1.55" fill="#a0a020" stroke="#6e6e12" stroke-width="0.35"/>
<circle cx="83" cy="142.6" r="1.55" fill="#a0a020" stroke="#6e6e12" stroke-width="0.35"/>
<circle cx="86.3" cy="142" r="1.55" fill="#a0a020" stroke="#6e6e12" stroke-width="0.35"/>
<circle cx="89.6" cy="141.3" r="1.55" fill="#a0a020" stroke="#6e6e12" stroke-width="0.35"/>
<circle cx="92.9" cy="140.7" r="1.55" fill="#a0a020" stroke="#6e6e12" stroke-width="0.35"/>
<circle cx="96.2" cy="140" r="1.55" fill="#a0a020" stroke="#6e6e12" stroke-width="0.35"/>
<circle cx="99.5" cy="139.3" r="1.55" fill="#a0a020" stroke="#6e6e12" stroke-width="0.35"/>
<circle cx="102.8" cy="138.5" r="1.55" fill="#a0a020" stroke="#6e6e12" stroke-width="0.35"/>
<circle cx="106.1" cy="137.4" r="1.55" fill="#a0a020" stroke="#6e6e12" stroke-width="0.35"/>
<circle cx="109.4" cy="135.5" r="1.55" fill="#a0a020" stroke="#6e6e12" stroke-width="0.35"/>
<circle cx="112.7" cy="135" r="1.55" fill="#a0a020" stroke="#6e6e12" stroke-width="0.35"/>
<circle cx="116" cy="134.5" r="1.55" fill="#a0a020" stroke="#6e6e12" stroke-width="0.35"/>
<circle cx="119.3" cy="135" r="1.55" fill="#a0a020" stroke="#6e6e12" stroke-width="0.35"/>
<circle cx="122.6" cy="134.5" r="1.55" fill="#a0a020" stroke="#6e6e12" stroke-width="0.35"/>
<circle cx="125.9" cy="134" r="1.55" fill="#a0a020" stroke="#6e6e12" stroke-width="0.35"/>
<circle cx="129.2" cy="135" r="1.55" fill="#a0a020" stroke="#6e6e12" stroke-width="0.35"/>
<circle cx="132.5" cy="134.5" r="1.55" fill="#a0a020" stroke="#6e6e12" stroke-width="0.35"/>
<circle cx="135.8" cy="135" r="1.55" fill="#a0a020" stroke="#6e6e12" stroke-width="0.35"/>
<circle cx="40.5" cy="171.6" r="1.55" fill="#2a9a9a"/>
<circle cx="43.7" cy="167.6" r="1.55" fill="#2a9a9a"/>
<circle cx="46.9" cy="162.2" r="1.55" fill="#2a9a9a"/>
<circle cx="50.5" cy="161.2" r="1.55" fill="#2a9a9a"/>
<circle cx="53.7" cy="157.3" r="1.55" fill="#2a9a9a"/>
<circle cx="56.9" cy="154.8" r="1.55" fill="#2a9a9a"/>
<circle cx="60.1" cy="153" r="1.55" fill="#2a9a9a"/>
<circle cx="63.3" cy="151" r="1.55" fill="#2a9a9a"/>
<circle cx="66.8" cy="149" r="1.55" fill="#2a9a9a"/>
<circle cx="70" cy="147.3" r="1.55" fill="#2a9a9a"/>
<circle cx="73.3" cy="145.7" r="1.55" fill="#2a9a9a"/>
<circle cx="76.5" cy="144.3" r="1.55" fill="#2a9a9a"/>
<circle cx="33.6" cy="178.5" r="1.55" fill="#a0a020" stroke="#6e6e12" stroke-width="0.35"/>
<circle cx="37.3" cy="168.9" r="1.55" fill="#a0a020" stroke="#6e6e12" stroke-width="0.35"/>
<circle cx="67.8" cy="124.7" r="1.55" fill="#111"/>
<circle cx="71.2" cy="123.9" r="1.55" fill="#111"/>
<circle cx="74.3" cy="124.7" r="1.55" fill="#111"/>
<circle cx="77.4" cy="125.4" r="1.55" fill="#111"/>
<circle cx="80.5" cy="128.5" r="1.55" fill="#111"/>
<circle cx="83.7" cy="130.5" r="1.55" fill="#111"/>
<circle cx="87" cy="131" r="1.55" fill="#111"/>
<circle cx="90.3" cy="131.5" r="1.55" fill="#111"/>
<circle cx="93.7" cy="132" r="1.55" fill="#111"/>
<circle cx="97" cy="133" r="1.55" fill="#111"/>
<circle cx="100" cy="129" r="1.55" fill="#111"/>
<circle cx="103.3" cy="131" r="1.55" fill="#111"/>
<circle cx="106.6" cy="133" r="1.55" fill="#111"/>
<circle cx="110" cy="134" r="1.55" fill="#111"/>
<circle cx="113.3" cy="133" r="1.55" fill="#111"/>
<circle cx="116.6" cy="134" r="1.55" fill="#111"/>
<circle cx="120" cy="133" r="1.55" fill="#111"/>
<circle cx="123.3" cy="134" r="1.55" fill="#111"/>
<circle cx="126.6" cy="133.5" r="1.55" fill="#111"/>
<circle cx="130" cy="132" r="1.55" fill="#111"/>
<circle cx="133.3" cy="133" r="1.55" fill="#111"/>
<circle cx="136.6" cy="134" r="1.55" fill="#111"/>
<circle cx="67.2" cy="120" r="1.55" fill="#a0a020" stroke="#6e6e12" stroke-width="0.35"/>
<circle cx="70.6" cy="119.4" r="1.55" fill="#a0a020" stroke="#6e6e12" stroke-width="0.35"/>
<circle cx="74" cy="119.7" r="1.55" fill="#a0a020" stroke="#6e6e12" stroke-width="0.35"/>
<circle cx="77.4" cy="120.6" r="1.55" fill="#a0a020" stroke="#6e6e12" stroke-width="0.35"/>
<circle cx="80.4" cy="125.6" r="1.55" fill="#a0a020" stroke="#6e6e12" stroke-width="0.35"/>
<circle cx="83.6" cy="128" r="1.55" fill="#a0a020" stroke="#6e6e12" stroke-width="0.35"/>
<circle cx="87" cy="129" r="1.55" fill="#a0a020" stroke="#6e6e12" stroke-width="0.35"/>
<circle cx="90.3" cy="129.5" r="1.55" fill="#a0a020" stroke="#6e6e12" stroke-width="0.35"/>
<circle cx="93.7" cy="129.8" r="1.55" fill="#a0a020" stroke="#6e6e12" stroke-width="0.35"/>
<circle cx="96.7" cy="132.7" r="1.55" fill="#a0a020" stroke="#6e6e12" stroke-width="0.35"/>
<circle cx="100" cy="132.7" r="1.55" fill="#a0a020" stroke="#6e6e12" stroke-width="0.35"/>
<circle cx="103.2" cy="130.5" r="1.55" fill="#a0a020" stroke="#6e6e12" stroke-width="0.35"/>
<circle cx="106.6" cy="132" r="1.55" fill="#a0a020" stroke="#6e6e12" stroke-width="0.35"/>
<circle cx="110.3" cy="130.5" r="1.55" fill="#a0a020" stroke="#6e6e12" stroke-width="0.35"/>
<circle cx="113.3" cy="128" r="1.55" fill="#a0a020" stroke="#6e6e12" stroke-width="0.35"/>
<circle cx="117" cy="132" r="1.55" fill="#a0a020" stroke="#6e6e12" stroke-width="0.35"/>
<circle cx="120.4" cy="132.7" r="1.55" fill="#a0a020" stroke="#6e6e12" stroke-width="0.35"/>
<circle cx="123.6" cy="131.2" r="1.55" fill="#a0a020" stroke="#6e6e12" stroke-width="0.35"/>
<circle cx="127.3" cy="129.8" r="1.55" fill="#a0a020" stroke="#6e6e12" stroke-width="0.35"/>
<circle cx="130.7" cy="132.7" r="1.55" fill="#a0a020" stroke="#6e6e12" stroke-width="0.35"/>
<circle cx="134" cy="133.5" r="1.55" fill="#a0a020" stroke="#6e6e12" stroke-width="0.35"/>
<circle cx="136.9" cy="134.2" r="1.55" fill="#a0a020" stroke="#6e6e12" stroke-width="0.35"/>
<circle cx="33.4" cy="154.8" r="1.55" fill="#ff8a1c"/>
<circle cx="37" cy="146.3" r="1.55" fill="#ff8a1c"/>
<circle cx="40.3" cy="140.9" r="1.55" fill="#ff8a1c"/>
<circle cx="43.7" cy="137.8" r="1.55" fill="#ff8a1c"/>
<circle cx="47.3" cy="135" r="1.55" fill="#ff8a1c"/>
<circle cx="50.8" cy="132.8" r="1.55" fill="#ff8a1c"/>
<circle cx="54.2" cy="130.8" r="1.55" fill="#ff8a1c"/>
<circle cx="57.3" cy="129.3" r="1.55" fill="#ff8a1c"/>
<circle cx="60.7" cy="127.7" r="1.55" fill="#ff8a1c"/>
<circle cx="64.3" cy="126.2" r="1.55" fill="#ff8a1c"/>
<circle cx="33.9" cy="148.3" r="1.55" fill="#9a2cff"/>
<circle cx="36.5" cy="141.5" r="1.55" fill="#9a2cff"/>
<circle cx="40" cy="134.7" r="1.55" fill="#9a2cff"/>
<circle cx="43.4" cy="131.6" r="1.55" fill="#9a2cff"/>
<circle cx="46.8" cy="128.8" r="1.55" fill="#9a2cff"/>
<circle cx="50.4" cy="126.7" r="1.55" fill="#9a2cff"/>
<circle cx="53.9" cy="125" r="1.55" fill="#9a2cff"/>
<circle cx="57" cy="123.6" r="1.55" fill="#9a2cff"/>
<circle cx="60.4" cy="122" r="1.55" fill="#9a2cff"/>
<circle cx="63.8" cy="120.8" r="1.55" fill="#9a2cff"/>
<line x1="100.8" y1="114.4" x2="109.9" y2="114.4" stroke="#000" stroke-width="0.8" />
<circle cx="105.3" cy="114.4" r="1.3" fill="#000"/>
<text x="111.7" y="116.9" font-size="7.0" text-anchor="start" font-weight="bold" fill="#000" font-family='"Liberation Sans", sans-serif' font-style="normal"  stroke="#000" stroke-width="0.3">H5</text>
<line x1="100.8" y1="122.8" x2="109.9" y2="122.8" stroke="#a0a020" stroke-width="0.8" />
<circle cx="105.3" cy="122.8" r="1.3" fill="#a0a020"/>
<text x="111.7" y="125.3" font-size="7.0" text-anchor="start" font-weight="bold" fill="#8f8f1a" font-family='"Liberation Sans", sans-serif' font-style="normal"  stroke="#8f8f1a" stroke-width="0.3">H3A1.5</text>
<line x1="90" y1="158.9" x2="98" y2="158.9" stroke="#777" stroke-width="0.8" />
<circle cx="94.3" cy="158.9" r="1.2" fill="#ff8a1c"/>
<text x="100.5" y="160.8" font-size="5.4" text-anchor="start" font-weight="bold" fill="#ff8a1c" font-family='"Liberation Sans", sans-serif' font-style="normal"  stroke="#ff8a1c" stroke-width="0.3">H5 LRS</text>
<line x1="90" y1="165.4" x2="98" y2="165.4" stroke="#000" stroke-width="0.8" />
<circle cx="94.3" cy="165.4" r="1.2" fill="#2ea02e"/>
<text x="100.5" y="167.3" font-size="5.4" text-anchor="start" font-weight="bold" fill="#2ea02e" font-family='"Liberation Sans", sans-serif' font-style="normal"  stroke="#2ea02e" stroke-width="0.3">H5 HRS &gt; 0.7V</text>
<line x1="90" y1="171.9" x2="98" y2="171.9" stroke="#000" stroke-width="0.8" />
<circle cx="94.3" cy="171.9" r="1.2" fill="#ff2cff"/>
<text x="100.5" y="173.8" font-size="5.4" text-anchor="start" font-weight="bold" fill="#ff2cff" font-family='"Liberation Sans", sans-serif' font-style="normal"  stroke="#ff2cff" stroke-width="0.3">H5 HRS &lt; 0.7V</text>
<line x1="90" y1="178.4" x2="98" y2="178.4" stroke="#a0a020" stroke-width="0.8" />
<circle cx="94.3" cy="178.4" r="1.2" fill="#9a2cff"/>
<text x="100.5" y="180.3" font-size="5.4" text-anchor="start" font-weight="bold" fill="#9a2cff" font-family='"Liberation Sans", sans-serif' font-style="normal"  stroke="#9a2cff" stroke-width="0.3">H3A1.5 LRS</text>
<line x1="90" y1="184.9" x2="98" y2="184.9" stroke="#a0a020" stroke-width="0.8" />
<circle cx="94.3" cy="184.9" r="1.2" fill="#2a9a9a"/>
<text x="100.5" y="186.8" font-size="5.4" text-anchor="start" font-weight="bold" fill="#2a9a9a" font-family='"Liberation Sans", sans-serif' font-style="normal"  stroke="#2a9a9a" stroke-width="0.3">H3A1.5 HRS</text>
<text x="37.4" y="120.4" font-size="9.2" text-anchor="start" font-weight="bold" fill="#000" font-family='"Liberation Sans", sans-serif' font-style="normal"  stroke="#000" stroke-width="0.3">LRS</text>
<text x="62.5" y="173.5" font-size="9.2" text-anchor="start" font-weight="bold" fill="#000" font-family='"Liberation Sans", sans-serif' font-style="normal"  stroke="#000" stroke-width="0.3">HRS</text>
<text x="44" y="189.2" font-size="9.2" font-weight="bold" fill="#ff2020" font-family='"Liberation Sans", sans-serif' stroke="#ff2020" stroke-width="0.3">1<tspan font-size="5.6" dy="-3.6">st</tspan><tspan dy="3.6" dx="2.4">Reset</tspan></text>
<rect x="175.5" y="110.6" width="113.5" height="83.6" fill="none" stroke="#7a7a7a" stroke-width="0.9"/>
<line x1="175.9" y1="194.2" x2="175.9" y2="192.2" stroke="#7a7a7a" stroke-width="0.81" />
<line x1="175.9" y1="110.6" x2="175.9" y2="112.6" stroke="#7a7a7a" stroke-width="0.81" />
<line x1="196.44" y1="194.2" x2="196.44" y2="192.2" stroke="#7a7a7a" stroke-width="0.81" />
<line x1="196.44" y1="110.6" x2="196.44" y2="112.6" stroke="#7a7a7a" stroke-width="0.81" />
<line x1="216.98" y1="194.2" x2="216.98" y2="192.2" stroke="#7a7a7a" stroke-width="0.81" />
<line x1="216.98" y1="110.6" x2="216.98" y2="112.6" stroke="#7a7a7a" stroke-width="0.81" />
<line x1="237.52" y1="194.2" x2="237.52" y2="192.2" stroke="#7a7a7a" stroke-width="0.81" />
<line x1="237.52" y1="110.6" x2="237.52" y2="112.6" stroke="#7a7a7a" stroke-width="0.81" />
<line x1="258.06" y1="194.2" x2="258.06" y2="192.2" stroke="#7a7a7a" stroke-width="0.81" />
<line x1="258.06" y1="110.6" x2="258.06" y2="112.6" stroke="#7a7a7a" stroke-width="0.81" />
<line x1="278.6" y1="194.2" x2="278.6" y2="192.2" stroke="#7a7a7a" stroke-width="0.81" />
<line x1="278.6" y1="110.6" x2="278.6" y2="112.6" stroke="#7a7a7a" stroke-width="0.81" />
<line x1="186.17" y1="194.2" x2="186.17" y2="193" stroke="#7a7a7a" stroke-width="0.7200000000000001" />
<line x1="186.17" y1="110.6" x2="186.17" y2="111.8" stroke="#7a7a7a" stroke-width="0.7200000000000001" />
<line x1="206.71" y1="194.2" x2="206.71" y2="193" stroke="#7a7a7a" stroke-width="0.7200000000000001" />
<line x1="206.71" y1="110.6" x2="206.71" y2="111.8" stroke="#7a7a7a" stroke-width="0.7200000000000001" />
<line x1="227.25" y1="194.2" x2="227.25" y2="193" stroke="#7a7a7a" stroke-width="0.7200000000000001" />
<line x1="227.25" y1="110.6" x2="227.25" y2="111.8" stroke="#7a7a7a" stroke-width="0.7200000000000001" />
<line x1="247.79" y1="194.2" x2="247.79" y2="193" stroke="#7a7a7a" stroke-width="0.7200000000000001" />
<line x1="247.79" y1="110.6" x2="247.79" y2="111.8" stroke="#7a7a7a" stroke-width="0.7200000000000001" />
<line x1="268.33" y1="194.2" x2="268.33" y2="193" stroke="#7a7a7a" stroke-width="0.7200000000000001" />
<line x1="268.33" y1="110.6" x2="268.33" y2="111.8" stroke="#7a7a7a" stroke-width="0.7200000000000001" />
<line x1="175.5" y1="178" x2="177.5" y2="178" stroke="#7a7a7a" stroke-width="0.81" />
<line x1="289" y1="178" x2="287" y2="178" stroke="#7a7a7a" stroke-width="0.81" />
<line x1="175.5" y1="162.5" x2="177.5" y2="162.5" stroke="#7a7a7a" stroke-width="0.81" />
<line x1="289" y1="162.5" x2="287" y2="162.5" stroke="#7a7a7a" stroke-width="0.81" />
<line x1="175.5" y1="147" x2="177.5" y2="147" stroke="#7a7a7a" stroke-width="0.81" />
<line x1="289" y1="147" x2="287" y2="147" stroke="#7a7a7a" stroke-width="0.81" />
<line x1="175.5" y1="131.5" x2="177.5" y2="131.5" stroke="#7a7a7a" stroke-width="0.81" />
<line x1="289" y1="131.5" x2="287" y2="131.5" stroke="#7a7a7a" stroke-width="0.81" />
<line x1="175.5" y1="115.99" x2="177.5" y2="115.99" stroke="#7a7a7a" stroke-width="0.81" />
<line x1="289" y1="115.99" x2="287" y2="115.99" stroke="#7a7a7a" stroke-width="0.81" />
<line x1="175.5" y1="185.75" x2="176.7" y2="185.75" stroke="#7a7a7a" stroke-width="0.7200000000000001" />
<line x1="289" y1="185.75" x2="287.8" y2="185.75" stroke="#7a7a7a" stroke-width="0.7200000000000001" />
<line x1="175.5" y1="170.25" x2="176.7" y2="170.25" stroke="#7a7a7a" stroke-width="0.7200000000000001" />
<line x1="289" y1="170.25" x2="287.8" y2="170.25" stroke="#7a7a7a" stroke-width="0.7200000000000001" />
<line x1="175.5" y1="154.75" x2="176.7" y2="154.75" stroke="#7a7a7a" stroke-width="0.7200000000000001" />
<line x1="289" y1="154.75" x2="287.8" y2="154.75" stroke="#7a7a7a" stroke-width="0.7200000000000001" />
<line x1="175.5" y1="139.25" x2="176.7" y2="139.25" stroke="#7a7a7a" stroke-width="0.7200000000000001" />
<line x1="289" y1="139.25" x2="287.8" y2="139.25" stroke="#7a7a7a" stroke-width="0.7200000000000001" />
<line x1="175.5" y1="123.75" x2="176.7" y2="123.75" stroke="#7a7a7a" stroke-width="0.7200000000000001" />
<line x1="289" y1="123.75" x2="287.8" y2="123.75" stroke="#7a7a7a" stroke-width="0.7200000000000001" />
<text x="175.9" y="202.7" font-size="7.8" text-anchor="middle" font-weight="bold" fill="#000" font-family='"Liberation Sans", sans-serif' font-style="normal"  stroke="#000" stroke-width="0.3">0.0</text>
<text x="196.44" y="202.7" font-size="7.8" text-anchor="middle" font-weight="bold" fill="#000" font-family='"Liberation Sans", sans-serif' font-style="normal"  stroke="#000" stroke-width="0.3">0.1</text>
<text x="216.98" y="202.7" font-size="7.8" text-anchor="middle" font-weight="bold" fill="#000" font-family='"Liberation Sans", sans-serif' font-style="normal"  stroke="#000" stroke-width="0.3">0.2</text>
<text x="237.52" y="202.7" font-size="7.8" text-anchor="middle" font-weight="bold" fill="#000" font-family='"Liberation Sans", sans-serif' font-style="normal"  stroke="#000" stroke-width="0.3">0.3</text>
<text x="258.06" y="202.7" font-size="7.8" text-anchor="middle" font-weight="bold" fill="#000" font-family='"Liberation Sans", sans-serif' font-style="normal"  stroke="#000" stroke-width="0.3">0.4</text>
<text x="278.6" y="202.7" font-size="7.8" text-anchor="middle" font-weight="bold" fill="#000" font-family='"Liberation Sans", sans-serif' font-style="normal"  stroke="#000" stroke-width="0.3">0.5</text>
<text x="174.2" y="196.23" font-size="7.8" text-anchor="end" font-weight="bold" fill="#000" font-family='"Liberation Sans", sans-serif' font-style="normal"  stroke="#000" stroke-width="0.3">0</text>
<text x="174.2" y="180.73" font-size="7.8" text-anchor="end" font-weight="bold" fill="#000" font-family='"Liberation Sans", sans-serif' font-style="normal"  stroke="#000" stroke-width="0.3">30</text>
<text x="174.2" y="165.23" font-size="7.8" text-anchor="end" font-weight="bold" fill="#000" font-family='"Liberation Sans", sans-serif' font-style="normal"  stroke="#000" stroke-width="0.3">60</text>
<text x="174.2" y="149.73" font-size="7.8" text-anchor="end" font-weight="bold" fill="#000" font-family='"Liberation Sans", sans-serif' font-style="normal"  stroke="#000" stroke-width="0.3">90</text>
<text x="174.2" y="134.23" font-size="7.8" text-anchor="end" font-weight="bold" fill="#000" font-family='"Liberation Sans", sans-serif' font-style="normal"  stroke="#000" stroke-width="0.3">120</text>
<text x="174.2" y="118.72" font-size="7.8" text-anchor="end" font-weight="bold" fill="#000" font-family='"Liberation Sans", sans-serif' font-style="normal"  stroke="#000" stroke-width="0.3">150</text>
<polyline points="175.9,193.5 283,112.6" fill="none" stroke="#9a2cff" stroke-width="0.9" stroke-linejoin="round" />
<circle cx="186.2" cy="185.5" r="1.7" fill="#9a2cff"/>
<circle cx="196" cy="177.5" r="1.7" fill="#9a2cff"/>
<circle cx="206.6" cy="169.3" r="1.7" fill="#9a2cff"/>
<circle cx="216.7" cy="160.8" r="1.7" fill="#9a2cff"/>
<circle cx="227" cy="152.9" r="1.7" fill="#9a2cff"/>
<circle cx="237.2" cy="145.2" r="1.7" fill="#9a2cff"/>
<circle cx="247.7" cy="136.9" r="1.7" fill="#9a2cff"/>
<circle cx="258.4" cy="130.1" r="1.7" fill="#9a2cff"/>
<circle cx="268.6" cy="122.5" r="1.7" fill="#9a2cff"/>
<circle cx="278.8" cy="116.5" r="1.7" fill="#9a2cff"/>
<polyline points="175.9,193.5 283.9,140.1" fill="none" stroke="#ff8a1c" stroke-width="0.9" stroke-linejoin="round" />
<circle cx="185.8" cy="189.2" r="1.7" fill="#ff8a1c"/>
<circle cx="196" cy="184.1" r="1.7" fill="#ff8a1c"/>
<circle cx="206.6" cy="179" r="1.7" fill="#ff8a1c"/>
<circle cx="216.7" cy="173.6" r="1.7" fill="#ff8a1c"/>
<circle cx="227" cy="168.5" r="1.7" fill="#ff8a1c"/>
<circle cx="237.2" cy="163.3" r="1.7" fill="#ff8a1c"/>
<circle cx="247.7" cy="158" r="1.7" fill="#ff8a1c"/>
<circle cx="258" cy="152.9" r="1.7" fill="#ff8a1c"/>
<circle cx="268.6" cy="147.4" r="1.7" fill="#ff8a1c"/>
<circle cx="278.8" cy="142.7" r="1.7" fill="#ff8a1c"/>
<text x="179.9" y="120.4" font-size="9.2" font-weight="bold" fill="#000" font-family='"Liberation Sans", sans-serif' word-spacing="1.5" letter-spacing="0" stroke="#000" stroke-width="0.3">Ohmic conduction</text>
<text transform="translate(158.9,158.8) rotate(-90)" text-anchor="middle" font-size="10.6" font-weight="bold" font-family='"Liberation Sans", sans-serif' stroke="#000" stroke-width="0.3"><tspan font-style="italic">I</tspan><tspan font-weight="normal" stroke-width="0.12"> (&#181;A)</tspan></text>
<text x="221.5" y="211.5" font-size="9.6" font-weight="bold" font-family='"Liberation Sans", sans-serif' stroke="#000" stroke-width="0.3"><tspan font-style="italic">V</tspan> (V)</text>
<text x="144.8" y="119.6" font-size="11.7" text-anchor="start" font-weight="normal" fill="#000" font-family='"Liberation Serif", serif' font-style="normal"  stroke="#000" stroke-width="0.3">(f)</text>
<rect x="318.3" y="115.4" width="109.3" height="30.8" fill="none" stroke="#7a7a7a" stroke-width="0.9"/>
<line x1="330" y1="146.2" x2="330" y2="144.2" stroke="#7a7a7a" stroke-width="0.81" />
<line x1="330" y1="115.4" x2="330" y2="117.4" stroke="#7a7a7a" stroke-width="0.81" />
<line x1="354.3" y1="146.2" x2="354.3" y2="144.2" stroke="#7a7a7a" stroke-width="0.81" />
<line x1="354.3" y1="115.4" x2="354.3" y2="117.4" stroke="#7a7a7a" stroke-width="0.81" />
<line x1="378.6" y1="146.2" x2="378.6" y2="144.2" stroke="#7a7a7a" stroke-width="0.81" />
<line x1="378.6" y1="115.4" x2="378.6" y2="117.4" stroke="#7a7a7a" stroke-width="0.81" />
<line x1="402.9" y1="146.2" x2="402.9" y2="144.2" stroke="#7a7a7a" stroke-width="0.81" />
<line x1="402.9" y1="115.4" x2="402.9" y2="117.4" stroke="#7a7a7a" stroke-width="0.81" />
<line x1="427.2" y1="146.2" x2="427.2" y2="144.2" stroke="#7a7a7a" stroke-width="0.81" />
<line x1="427.2" y1="115.4" x2="427.2" y2="117.4" stroke="#7a7a7a" stroke-width="0.81" />
<line x1="318.3" y1="120.3" x2="320.3" y2="120.3" stroke="#7a7a7a" stroke-width="0.81" />
<line x1="427.6" y1="120.3" x2="425.6" y2="120.3" stroke="#7a7a7a" stroke-width="0.81" />
<line x1="318.3" y1="130.66" x2="320.3" y2="130.66" stroke="#7a7a7a" stroke-width="0.81" />
<line x1="427.6" y1="130.66" x2="425.6" y2="130.66" stroke="#7a7a7a" stroke-width="0.81" />
<line x1="318.3" y1="141.02" x2="320.3" y2="141.02" stroke="#7a7a7a" stroke-width="0.81" />
<line x1="427.6" y1="141.02" x2="425.6" y2="141.02" stroke="#7a7a7a" stroke-width="0.81" />
<line x1="318.3" y1="125.48" x2="319.5" y2="125.48" stroke="#7a7a7a" stroke-width="0.7200000000000001" />
<line x1="427.6" y1="125.48" x2="426.4" y2="125.48" stroke="#7a7a7a" stroke-width="0.7200000000000001" />
<line x1="318.3" y1="135.84" x2="319.5" y2="135.84" stroke="#7a7a7a" stroke-width="0.7200000000000001" />
<line x1="427.6" y1="135.84" x2="426.4" y2="135.84" stroke="#7a7a7a" stroke-width="0.7200000000000001" />
<text x="330" y="152.7" font-size="6.1" text-anchor="middle" font-weight="bold" fill="#000" font-family='"Liberation Sans", sans-serif' font-style="normal"  stroke="#000" stroke-width="0.3">0.4</text>
<text x="354.3" y="152.7" font-size="6.1" text-anchor="middle" font-weight="bold" fill="#000" font-family='"Liberation Sans", sans-serif' font-style="normal"  stroke="#000" stroke-width="0.3">0.5</text>
<text x="378.6" y="152.7" font-size="6.1" text-anchor="middle" font-weight="bold" fill="#000" font-family='"Liberation Sans", sans-serif' font-style="normal"  stroke="#000" stroke-width="0.3">0.6</text>
<text x="402.9" y="152.7" font-size="6.1" text-anchor="middle" font-weight="bold" fill="#000" font-family='"Liberation Sans", sans-serif' font-style="normal"  stroke="#000" stroke-width="0.3">0.7</text>
<text x="427.2" y="152.7" font-size="6.1" text-anchor="middle" font-weight="bold" fill="#000" font-family='"Liberation Sans", sans-serif' font-style="normal"  stroke="#000" stroke-width="0.3">0.8</text>
<text x="316" y="122.44" font-size="6.1" text-anchor="end" font-weight="bold" fill="#000" font-family='"Liberation Sans", sans-serif' font-style="normal"  stroke="#000" stroke-width="0.3">-5.2</text>
<text x="316" y="132.79" font-size="6.1" text-anchor="end" font-weight="bold" fill="#000" font-family='"Liberation Sans", sans-serif' font-style="normal"  stroke="#000" stroke-width="0.3">-5.6</text>
<text x="316" y="143.15" font-size="6.1" text-anchor="end" font-weight="bold" fill="#000" font-family='"Liberation Sans", sans-serif' font-style="normal"  stroke="#000" stroke-width="0.3">-6.0</text>
<polyline points="320.7,143.7 427.2,118.2" fill="none" stroke="#ff2cff" stroke-width="0.9" stroke-linejoin="round" />
<circle cx="327.2" cy="141.5" r="1.5" fill="#ff2cff"/>
<circle cx="342" cy="138.4" r="1.5" fill="#ff2cff"/>
<circle cx="354.8" cy="135.6" r="1.5" fill="#ff2cff"/>
<circle cx="366.1" cy="132.2" r="1.5" fill="#ff2cff"/>
<circle cx="376.8" cy="130" r="1.5" fill="#ff2cff"/>
<circle cx="386.5" cy="127.6" r="1.5" fill="#ff2cff"/>
<circle cx="395.8" cy="125.7" r="1.5" fill="#ff2cff"/>
<circle cx="404.7" cy="123.7" r="1.5" fill="#ff2cff"/>
<circle cx="413.2" cy="121.6" r="1.5" fill="#ff2cff"/>
<circle cx="421.3" cy="119.9" r="1.5" fill="#ff2cff"/>
<text x="319.4" y="122.2" font-size="9.0" font-weight="bold" fill="#000" font-family='"Liberation Sans", sans-serif' word-spacing="2.6" letter-spacing="0" stroke="#000" stroke-width="0.3">Thermionic emission</text>
<text transform="translate(302.8,134.2) rotate(-90)" font-size="8.2" text-anchor="middle" font-weight="bold" fill="#000" font-family='"Liberation Sans", sans-serif'  stroke="#000" stroke-width="0.3">log (I)</text>
<text x="366.9" y="161.4" font-size="8.0" font-weight="bold" font-family='"Liberation Sans", sans-serif' stroke="#000" stroke-width="0.3">V<tspan font-size="4.6" dy="-4.0">1/2</tspan></text>
<text x="292.7" y="122.8" font-size="11.7" text-anchor="start" font-weight="normal" fill="#000" font-family='"Liberation Serif", serif' font-style="normal"  stroke="#000" stroke-width="0.3">(g)</text>
<rect x="318.9" y="163.6" width="108.2" height="30.7" fill="none" stroke="#7a7a7a" stroke-width="0.9"/>
<line x1="326" y1="194.3" x2="326" y2="192.3" stroke="#7a7a7a" stroke-width="0.81" />
<line x1="326" y1="163.6" x2="326" y2="165.6" stroke="#7a7a7a" stroke-width="0.81" />
<line x1="366.5" y1="194.3" x2="366.5" y2="192.3" stroke="#7a7a7a" stroke-width="0.81" />
<line x1="366.5" y1="163.6" x2="366.5" y2="165.6" stroke="#7a7a7a" stroke-width="0.81" />
<line x1="407" y1="194.3" x2="407" y2="192.3" stroke="#7a7a7a" stroke-width="0.81" />
<line x1="407" y1="163.6" x2="407" y2="165.6" stroke="#7a7a7a" stroke-width="0.81" />
<line x1="346.25" y1="194.3" x2="346.25" y2="193.1" stroke="#7a7a7a" stroke-width="0.7200000000000001" />
<line x1="346.25" y1="163.6" x2="346.25" y2="164.8" stroke="#7a7a7a" stroke-width="0.7200000000000001" />
<line x1="386.75" y1="194.3" x2="386.75" y2="193.1" stroke="#7a7a7a" stroke-width="0.7200000000000001" />
<line x1="386.75" y1="163.6" x2="386.75" y2="164.8" stroke="#7a7a7a" stroke-width="0.7200000000000001" />
<line x1="318.9" y1="163.6" x2="320.9" y2="163.6" stroke="#7a7a7a" stroke-width="0.81" />
<line x1="427.1" y1="163.6" x2="425.1" y2="163.6" stroke="#7a7a7a" stroke-width="0.81" />
<line x1="318.9" y1="179" x2="320.9" y2="179" stroke="#7a7a7a" stroke-width="0.81" />
<line x1="427.1" y1="179" x2="425.1" y2="179" stroke="#7a7a7a" stroke-width="0.81" />
<line x1="318.9" y1="194.4" x2="320.9" y2="194.4" stroke="#7a7a7a" stroke-width="0.81" />
<line x1="427.1" y1="194.4" x2="425.1" y2="194.4" stroke="#7a7a7a" stroke-width="0.81" />
<line x1="318.9" y1="171.3" x2="320.1" y2="171.3" stroke="#7a7a7a" stroke-width="0.7200000000000001" />
<line x1="427.1" y1="171.3" x2="425.9" y2="171.3" stroke="#7a7a7a" stroke-width="0.7200000000000001" />
<line x1="318.9" y1="186.7" x2="320.1" y2="186.7" stroke="#7a7a7a" stroke-width="0.7200000000000001" />
<line x1="427.1" y1="186.7" x2="425.9" y2="186.7" stroke="#7a7a7a" stroke-width="0.7200000000000001" />
<text x="326" y="201.3" font-size="6.6" text-anchor="middle" font-weight="bold" fill="#000" font-family='"Liberation Sans", sans-serif' font-style="normal"  stroke="#000" stroke-width="0.3">1</text>
<text x="366.5" y="201.3" font-size="6.6" text-anchor="middle" font-weight="bold" fill="#000" font-family='"Liberation Sans", sans-serif' font-style="normal"  stroke="#000" stroke-width="0.3">2</text>
<text x="407" y="201.3" font-size="6.6" text-anchor="middle" font-weight="bold" fill="#000" font-family='"Liberation Sans", sans-serif' font-style="normal"  stroke="#000" stroke-width="0.3">3</text>
<text x="316.6" y="165.84" font-size="6.4" text-anchor="end" font-weight="bold" fill="#000" font-family='"Liberation Sans", sans-serif' font-style="normal"  stroke="#000" stroke-width="0.3">-10.6</text>
<text x="316.6" y="181.24" font-size="6.4" text-anchor="end" font-weight="bold" fill="#000" font-family='"Liberation Sans", sans-serif' font-style="normal"  stroke="#000" stroke-width="0.3">-10.8</text>
<text x="316.6" y="196.64" font-size="6.4" text-anchor="end" font-weight="bold" fill="#000" font-family='"Liberation Sans", sans-serif' font-style="normal"  stroke="#000" stroke-width="0.3">-11.0</text>
<polyline points="323.1,174 344.1,192.5" fill="none" stroke="#2ea02e" stroke-width="0.8" stroke-linejoin="round" />
<circle cx="325.1" cy="177" r="1.6" fill="#2ea02e"/>
<circle cx="328.1" cy="180.5" r="1.6" fill="#2ea02e"/>
<circle cx="330.1" cy="178" r="1.6" fill="#2ea02e"/>
<circle cx="332.7" cy="180" r="1.6" fill="#2ea02e"/>
<circle cx="335.7" cy="184" r="1.6" fill="#2ea02e"/>
<circle cx="338.7" cy="189" r="1.6" fill="#2ea02e"/>
<circle cx="343.1" cy="189" r="1.6" fill="#2ea02e"/>
<circle cx="347.5" cy="188.5" r="1.5" fill="#000"/>
<circle cx="353.1" cy="187.5" r="1.5" fill="#000"/>
<circle cx="359" cy="186.7" r="1.5" fill="#000"/>
<circle cx="366.4" cy="184.5" r="1.5" fill="#000"/>
<circle cx="375.4" cy="181.5" r="1.5" fill="#000"/>
<circle cx="386.7" cy="177.7" r="1.5" fill="#000"/>
<circle cx="401.5" cy="172.4" r="1.5" fill="#000"/>
<circle cx="420.7" cy="165.6" r="1.5" fill="#000"/>
<text x="322.8" y="173.2" font-size="9.8" font-weight="bold" fill="#000" font-family='"Liberation Sans", sans-serif' word-spacing="2.2" letter-spacing="0.3" stroke="#000" stroke-width="0.3">FNT</text>
<text transform="translate(301.2,181.0) rotate(-90)" text-anchor="middle" font-size="8.3" font-weight="bold" font-family='"Liberation Sans", sans-serif' stroke="#000" stroke-width="0.3">ln (I/V<tspan font-size="4.4" dy="-3.2">2</tspan><tspan dy="3.2">)</tspan></text>
<text x="367.3" y="208" font-size="8.1" text-anchor="start" font-weight="bold" fill="#000" font-family='"Liberation Sans", sans-serif' font-style="italic"  stroke="#000" stroke-width="0.3">1/V</text>
<rect x="468.6" y="115.3" width="105.3" height="77.9" fill="none" stroke="#7a7a7a" stroke-width="0.9"/>
<line x1="469.2" y1="193.2" x2="469.2" y2="191.2" stroke="#7a7a7a" stroke-width="0.81" />
<line x1="469.2" y1="115.3" x2="469.2" y2="117.3" stroke="#7a7a7a" stroke-width="0.81" />
<line x1="501" y1="193.2" x2="501" y2="191.2" stroke="#7a7a7a" stroke-width="0.81" />
<line x1="501" y1="115.3" x2="501" y2="117.3" stroke="#7a7a7a" stroke-width="0.81" />
<line x1="532.8" y1="193.2" x2="532.8" y2="191.2" stroke="#7a7a7a" stroke-width="0.81" />
<line x1="532.8" y1="115.3" x2="532.8" y2="117.3" stroke="#7a7a7a" stroke-width="0.81" />
<line x1="564.6" y1="193.2" x2="564.6" y2="191.2" stroke="#7a7a7a" stroke-width="0.81" />
<line x1="564.6" y1="115.3" x2="564.6" y2="117.3" stroke="#7a7a7a" stroke-width="0.81" />
<line x1="485.1" y1="193.2" x2="485.1" y2="192" stroke="#7a7a7a" stroke-width="0.7200000000000001" />
<line x1="485.1" y1="115.3" x2="485.1" y2="116.5" stroke="#7a7a7a" stroke-width="0.7200000000000001" />
<line x1="516.9" y1="193.2" x2="516.9" y2="192" stroke="#7a7a7a" stroke-width="0.7200000000000001" />
<line x1="516.9" y1="115.3" x2="516.9" y2="116.5" stroke="#7a7a7a" stroke-width="0.7200000000000001" />
<line x1="548.7" y1="193.2" x2="548.7" y2="192" stroke="#7a7a7a" stroke-width="0.7200000000000001" />
<line x1="548.7" y1="115.3" x2="548.7" y2="116.5" stroke="#7a7a7a" stroke-width="0.7200000000000001" />
<line x1="468.6" y1="115.9" x2="470.6" y2="115.9" stroke="#7a7a7a" stroke-width="0.81" />
<line x1="573.9" y1="115.9" x2="571.9" y2="115.9" stroke="#7a7a7a" stroke-width="0.81" />
<line x1="468.6" y1="129.9" x2="470.6" y2="129.9" stroke="#7a7a7a" stroke-width="0.81" />
<line x1="573.9" y1="129.9" x2="571.9" y2="129.9" stroke="#7a7a7a" stroke-width="0.81" />
<line x1="468.6" y1="143.9" x2="470.6" y2="143.9" stroke="#7a7a7a" stroke-width="0.81" />
<line x1="573.9" y1="143.9" x2="571.9" y2="143.9" stroke="#7a7a7a" stroke-width="0.81" />
<line x1="468.6" y1="157.9" x2="470.6" y2="157.9" stroke="#7a7a7a" stroke-width="0.81" />
<line x1="573.9" y1="157.9" x2="571.9" y2="157.9" stroke="#7a7a7a" stroke-width="0.81" />
<line x1="468.6" y1="171.9" x2="470.6" y2="171.9" stroke="#7a7a7a" stroke-width="0.81" />
<line x1="573.9" y1="171.9" x2="571.9" y2="171.9" stroke="#7a7a7a" stroke-width="0.81" />
<line x1="468.6" y1="185.9" x2="470.6" y2="185.9" stroke="#7a7a7a" stroke-width="0.81" />
<line x1="573.9" y1="185.9" x2="571.9" y2="185.9" stroke="#7a7a7a" stroke-width="0.81" />
<text x="469.2" y="201.6" font-size="7.8" text-anchor="middle" font-weight="bold" fill="#000" font-family='"Liberation Sans", sans-serif' font-style="normal"  stroke="#000" stroke-width="0.3">-2.0</text>
<text x="501" y="201.6" font-size="7.8" text-anchor="middle" font-weight="bold" fill="#000" font-family='"Liberation Sans", sans-serif' font-style="normal"  stroke="#000" stroke-width="0.3">-1.5</text>
<text x="532.8" y="201.6" font-size="7.8" text-anchor="middle" font-weight="bold" fill="#000" font-family='"Liberation Sans", sans-serif' font-style="normal"  stroke="#000" stroke-width="0.3">-1.0</text>
<text x="564.6" y="201.6" font-size="7.8" text-anchor="middle" font-weight="bold" fill="#000" font-family='"Liberation Sans", sans-serif' font-style="normal"  stroke="#000" stroke-width="0.3">-0.5</text>
<text x="466.8" y="118.63" font-size="7.8" text-anchor="end" font-weight="bold" fill="#000" font-family='"Liberation Sans", sans-serif' font-style="normal"  stroke="#000" stroke-width="0.3">-10.5</text>
<text x="466.8" y="132.63" font-size="7.8" text-anchor="end" font-weight="bold" fill="#000" font-family='"Liberation Sans", sans-serif' font-style="normal"  stroke="#000" stroke-width="0.3">-11.0</text>
<text x="466.8" y="146.63" font-size="7.8" text-anchor="end" font-weight="bold" fill="#000" font-family='"Liberation Sans", sans-serif' font-style="normal"  stroke="#000" stroke-width="0.3">-11.5</text>
<text x="466.8" y="160.63" font-size="7.8" text-anchor="end" font-weight="bold" fill="#000" font-family='"Liberation Sans", sans-serif' font-style="normal"  stroke="#000" stroke-width="0.3">-12.0</text>
<text x="466.8" y="174.63" font-size="7.8" text-anchor="end" font-weight="bold" fill="#000" font-family='"Liberation Sans", sans-serif' font-style="normal"  stroke="#000" stroke-width="0.3">-12.5</text>
<text x="466.8" y="188.63" font-size="7.8" text-anchor="end" font-weight="bold" fill="#000" font-family='"Liberation Sans", sans-serif' font-style="normal"  stroke="#000" stroke-width="0.3">-13.0</text>
<polyline points="471.3,190.2 568.3,126.2" fill="none" stroke="#2a9a9a" stroke-width="0.9" stroke-linejoin="round" />
<circle cx="474.8" cy="186.7" r="1.6" fill="#2a9a9a" stroke="#1a6a6a" stroke-width="0.35"/>
<circle cx="493.2" cy="175.5" r="1.6" fill="#2a9a9a" stroke="#1a6a6a" stroke-width="0.35"/>
<circle cx="507.8" cy="164.4" r="1.6" fill="#2a9a9a" stroke="#1a6a6a" stroke-width="0.35"/>
<circle cx="519.7" cy="161.9" r="1.6" fill="#2a9a9a" stroke="#1a6a6a" stroke-width="0.35"/>
<circle cx="529.8" cy="152.9" r="1.6" fill="#2a9a9a" stroke="#1a6a6a" stroke-width="0.35"/>
<circle cx="538.3" cy="146.6" r="1.6" fill="#2a9a9a" stroke="#1a6a6a" stroke-width="0.35"/>
<circle cx="545.9" cy="141.5" r="1.6" fill="#2a9a9a" stroke="#1a6a6a" stroke-width="0.35"/>
<circle cx="552.7" cy="136.7" r="1.6" fill="#2a9a9a" stroke="#1a6a6a" stroke-width="0.35"/>
<circle cx="558.7" cy="132.2" r="1.6" fill="#2a9a9a" stroke="#1a6a6a" stroke-width="0.35"/>
<circle cx="564.3" cy="128.4" r="1.6" fill="#2a9a9a" stroke="#1a6a6a" stroke-width="0.35"/>
<text x="471.7" y="124.4" font-size="9.2" font-weight="bold" fill="#000" font-family='"Liberation Sans", sans-serif' word-spacing="1.9" letter-spacing="0" stroke="#000" stroke-width="0.3">Ionic conduction</text>
<text transform="translate(443.6,159.7) rotate(-90)" font-size="9.4" text-anchor="middle" font-weight="bold" fill="#000" font-family='"Liberation Sans", sans-serif'  stroke="#000" stroke-width="0.3">ln (I)</text>
<text x="509.7" y="212" font-size="9.6" text-anchor="start" font-weight="bold" fill="#000" font-family='"Liberation Sans", sans-serif' font-style="normal"  stroke="#000" stroke-width="0.3">ln (V)</text>
<text x="434.3" y="119.8" font-size="11.7" text-anchor="start" font-weight="bold" fill="#000" font-family='"Liberation Serif", serif' font-style="normal"  stroke="#000" stroke-width="0.3">(h)</text>
<rect x="30.7" y="218.4" width="109.3" height="80.9" fill="none" stroke="#7a7a7a" stroke-width="0.9"/>
<line x1="30.7" y1="299.3" x2="30.7" y2="297.3" stroke="#7a7a7a" stroke-width="0.81" />
<line x1="30.7" y1="218.4" x2="30.7" y2="220.4" stroke="#7a7a7a" stroke-width="0.81" />
<line x1="63.7" y1="299.3" x2="63.7" y2="297.3" stroke="#7a7a7a" stroke-width="0.81" />
<line x1="63.7" y1="218.4" x2="63.7" y2="220.4" stroke="#7a7a7a" stroke-width="0.81" />
<line x1="96.7" y1="299.3" x2="96.7" y2="297.3" stroke="#7a7a7a" stroke-width="0.81" />
<line x1="96.7" y1="218.4" x2="96.7" y2="220.4" stroke="#7a7a7a" stroke-width="0.81" />
<line x1="129.7" y1="299.3" x2="129.7" y2="297.3" stroke="#7a7a7a" stroke-width="0.81" />
<line x1="129.7" y1="218.4" x2="129.7" y2="220.4" stroke="#7a7a7a" stroke-width="0.81" />
<line x1="47.2" y1="299.3" x2="47.2" y2="298.3" stroke="#7a7a7a" stroke-width="0.7200000000000001" />
<line x1="47.2" y1="218.4" x2="47.2" y2="219.4" stroke="#7a7a7a" stroke-width="0.7200000000000001" />
<line x1="80.2" y1="299.3" x2="80.2" y2="298.3" stroke="#7a7a7a" stroke-width="0.7200000000000001" />
<line x1="80.2" y1="218.4" x2="80.2" y2="219.4" stroke="#7a7a7a" stroke-width="0.7200000000000001" />
<line x1="113.2" y1="299.3" x2="113.2" y2="298.3" stroke="#7a7a7a" stroke-width="0.7200000000000001" />
<line x1="113.2" y1="218.4" x2="113.2" y2="219.4" stroke="#7a7a7a" stroke-width="0.7200000000000001" />
<line x1="30.7" y1="235.6" x2="32.7" y2="235.6" stroke="#7a7a7a" stroke-width="0.81" />
<line x1="140" y1="235.6" x2="138" y2="235.6" stroke="#7a7a7a" stroke-width="0.81" />
<line x1="30.7" y1="263.4" x2="32.7" y2="263.4" stroke="#7a7a7a" stroke-width="0.81" />
<line x1="140" y1="263.4" x2="138" y2="263.4" stroke="#7a7a7a" stroke-width="0.81" />
<line x1="30.7" y1="291.2" x2="32.7" y2="291.2" stroke="#7a7a7a" stroke-width="0.81" />
<line x1="140" y1="291.2" x2="138" y2="291.2" stroke="#7a7a7a" stroke-width="0.81" />
<line x1="30.7" y1="297.37" x2="31.7" y2="297.37" stroke="#7a7a7a" stroke-width="0.7200000000000001" />
<line x1="140" y1="297.37" x2="139" y2="297.37" stroke="#7a7a7a" stroke-width="0.7200000000000001" />
<line x1="30.7" y1="295.51" x2="31.7" y2="295.51" stroke="#7a7a7a" stroke-width="0.7200000000000001" />
<line x1="140" y1="295.51" x2="139" y2="295.51" stroke="#7a7a7a" stroke-width="0.7200000000000001" />
<line x1="30.7" y1="293.89" x2="31.7" y2="293.89" stroke="#7a7a7a" stroke-width="0.7200000000000001" />
<line x1="140" y1="293.89" x2="139" y2="293.89" stroke="#7a7a7a" stroke-width="0.7200000000000001" />
<line x1="30.7" y1="292.47" x2="31.7" y2="292.47" stroke="#7a7a7a" stroke-width="0.7200000000000001" />
<line x1="140" y1="292.47" x2="139" y2="292.47" stroke="#7a7a7a" stroke-width="0.7200000000000001" />
<line x1="30.7" y1="282.83" x2="31.7" y2="282.83" stroke="#7a7a7a" stroke-width="0.7200000000000001" />
<line x1="140" y1="282.83" x2="139" y2="282.83" stroke="#7a7a7a" stroke-width="0.7200000000000001" />
<line x1="30.7" y1="277.94" x2="31.7" y2="277.94" stroke="#7a7a7a" stroke-width="0.7200000000000001" />
<line x1="140" y1="277.94" x2="139" y2="277.94" stroke="#7a7a7a" stroke-width="0.7200000000000001" />
<line x1="30.7" y1="274.46" x2="31.7" y2="274.46" stroke="#7a7a7a" stroke-width="0.7200000000000001" />
<line x1="140" y1="274.46" x2="139" y2="274.46" stroke="#7a7a7a" stroke-width="0.7200000000000001" />
<line x1="30.7" y1="271.77" x2="31.7" y2="271.77" stroke="#7a7a7a" stroke-width="0.7200000000000001" />
<line x1="140" y1="271.77" x2="139" y2="271.77" stroke="#7a7a7a" stroke-width="0.7200000000000001" />
<line x1="30.7" y1="269.57" x2="31.7" y2="269.57" stroke="#7a7a7a" stroke-width="0.7200000000000001" />
<line x1="140" y1="269.57" x2="139" y2="269.57" stroke="#7a7a7a" stroke-width="0.7200000000000001" />
<line x1="30.7" y1="267.71" x2="31.7" y2="267.71" stroke="#7a7a7a" stroke-width="0.7200000000000001" />
<line x1="140" y1="267.71" x2="139" y2="267.71" stroke="#7a7a7a" stroke-width="0.7200000000000001" />
<line x1="30.7" y1="266.09" x2="31.7" y2="266.09" stroke="#7a7a7a" stroke-width="0.7200000000000001" />
<line x1="140" y1="266.09" x2="139" y2="266.09" stroke="#7a7a7a" stroke-width="0.7200000000000001" />
<line x1="30.7" y1="264.67" x2="31.7" y2="264.67" stroke="#7a7a7a" stroke-width="0.7200000000000001" />
<line x1="140" y1="264.67" x2="139" y2="264.67" stroke="#7a7a7a" stroke-width="0.7200000000000001" />
<line x1="30.7" y1="255.03" x2="31.7" y2="255.03" stroke="#7a7a7a" stroke-width="0.7200000000000001" />
<line x1="140" y1="255.03" x2="139" y2="255.03" stroke="#7a7a7a" stroke-width="0.7200000000000001" />
<line x1="30.7" y1="250.14" x2="31.7" y2="250.14" stroke="#7a7a7a" stroke-width="0.7200000000000001" />
<line x1="140" y1="250.14" x2="139" y2="250.14" stroke="#7a7a7a" stroke-width="0.7200000000000001" />
<line x1="30.7" y1="246.66" x2="31.7" y2="246.66" stroke="#7a7a7a" stroke-width="0.7200000000000001" />
<line x1="140" y1="246.66" x2="139" y2="246.66" stroke="#7a7a7a" stroke-width="0.7200000000000001" />
<line x1="30.7" y1="243.97" x2="31.7" y2="243.97" stroke="#7a7a7a" stroke-width="0.7200000000000001" />
<line x1="140" y1="243.97" x2="139" y2="243.97" stroke="#7a7a7a" stroke-width="0.7200000000000001" />
<line x1="30.7" y1="241.77" x2="31.7" y2="241.77" stroke="#7a7a7a" stroke-width="0.7200000000000001" />
<line x1="140" y1="241.77" x2="139" y2="241.77" stroke="#7a7a7a" stroke-width="0.7200000000000001" />
<line x1="30.7" y1="239.91" x2="31.7" y2="239.91" stroke="#7a7a7a" stroke-width="0.7200000000000001" />
<line x1="140" y1="239.91" x2="139" y2="239.91" stroke="#7a7a7a" stroke-width="0.7200000000000001" />
<line x1="30.7" y1="238.29" x2="31.7" y2="238.29" stroke="#7a7a7a" stroke-width="0.7200000000000001" />
<line x1="140" y1="238.29" x2="139" y2="238.29" stroke="#7a7a7a" stroke-width="0.7200000000000001" />
<line x1="30.7" y1="236.87" x2="31.7" y2="236.87" stroke="#7a7a7a" stroke-width="0.7200000000000001" />
<line x1="140" y1="236.87" x2="139" y2="236.87" stroke="#7a7a7a" stroke-width="0.7200000000000001" />
<line x1="30.7" y1="227.23" x2="31.7" y2="227.23" stroke="#7a7a7a" stroke-width="0.7200000000000001" />
<line x1="140" y1="227.23" x2="139" y2="227.23" stroke="#7a7a7a" stroke-width="0.7200000000000001" />
<line x1="30.7" y1="222.34" x2="31.7" y2="222.34" stroke="#7a7a7a" stroke-width="0.7200000000000001" />
<line x1="140" y1="222.34" x2="139" y2="222.34" stroke="#7a7a7a" stroke-width="0.7200000000000001" />
<text x="30.7" y="307.5" font-size="7.8" text-anchor="middle" font-weight="bold" fill="#000" font-family='"Liberation Sans", sans-serif' font-style="normal"  stroke="#000" stroke-width="0.3">0.0</text>
<text x="63.7" y="307.5" font-size="7.8" text-anchor="middle" font-weight="bold" fill="#000" font-family='"Liberation Sans", sans-serif' font-style="normal"  stroke="#000" stroke-width="0.3">0.5</text>
<text x="96.7" y="307.5" font-size="7.8" text-anchor="middle" font-weight="bold" fill="#000" font-family='"Liberation Sans", sans-serif' font-style="normal"  stroke="#000" stroke-width="0.3">1.0</text>
<text x="129.7" y="307.5" font-size="7.8" text-anchor="middle" font-weight="bold" fill="#000" font-family='"Liberation Sans", sans-serif' font-style="normal"  stroke="#000" stroke-width="0.3">1.5</text>
<text x="22.8" y="238.8" font-size="7.5" text-anchor="end" font-weight="bold" fill="#000" font-family='"Liberation Sans", sans-serif' font-style="normal"  stroke="#000" stroke-width="0.3">10</text>
<text x="23.2" y="235" font-size="4.8" text-anchor="start" font-weight="bold" fill="#000" font-family='"Liberation Sans", sans-serif' font-style="normal"  stroke="#000" stroke-width="0.3">-4</text>
<text x="22.8" y="266.6" font-size="7.5" text-anchor="end" font-weight="bold" fill="#000" font-family='"Liberation Sans", sans-serif' font-style="normal"  stroke="#000" stroke-width="0.3">10</text>
<text x="23.2" y="262.8" font-size="4.8" text-anchor="start" font-weight="bold" fill="#000" font-family='"Liberation Sans", sans-serif' font-style="normal"  stroke="#000" stroke-width="0.3">-5</text>
<text x="22.8" y="294.4" font-size="7.5" text-anchor="end" font-weight="bold" fill="#000" font-family='"Liberation Sans", sans-serif' font-style="normal"  stroke="#000" stroke-width="0.3">10</text>
<text x="23.2" y="290.6" font-size="4.8" text-anchor="start" font-weight="bold" fill="#000" font-family='"Liberation Sans", sans-serif' font-style="normal"  stroke="#000" stroke-width="0.3">-6</text>
<text x="72.8" y="318.8" font-size="9.8" font-weight="bold" font-family='"Liberation Sans", sans-serif' stroke="#000" stroke-width="0.3"><tspan font-style="italic" font-size="10.19">V</tspan><tspan font-size="5.49" dy="4.12" dx="-0.5">S</tspan><tspan dy="-4.12" dx="2.94">(V)</tspan></text>
<text transform="translate(10.4,264.7) rotate(-90) scale(1.1,1)" text-anchor="middle" font-size="10.0" font-weight="bold" font-family='"Liberation Sans", sans-serif' stroke="#000" stroke-width="0.3"><tspan font-style="italic">I</tspan><tspan font-size="6.20" dy="2.80">DS</tspan><tspan dy="-2.80" dx="1.80">(A)</tspan></text>
<text x="3.8" y="228" font-size="11.7" text-anchor="start" font-weight="normal" fill="#000" font-family='"Liberation Serif", serif' font-style="normal"  stroke="#000" stroke-width="0.3">(i)</text>
<polyline points="34.1,263.7 37.3,254.6 40.5,249.3 44,246.6 47.3,244 50.5,242.1 54,240.5 57.2,238.9 60.9,236.9 64.1,235.3 67.3,234 71,233.7 74.5,234.4 77.8,235.7 80.6,238.4 84.4,240.7 88.9,240.7 93.3,240.7 97.7,240.4 102.2,241.4 106.6,242 110,242.6 113.3,243 116.6,243.6 119.9,243.9 123.2,243.6 126.5,244 129.8,243.6 133.1,243 136.4,242.2 138.8,241.5" fill="none" stroke="#555" stroke-width="0.6" stroke-linejoin="round" />
<polyline points="34.1,257.3 37.3,249.3 40.5,244 43.7,240.8 47.3,238.1 50.5,236 54,234.4 57.2,233.2 60.9,231.6 64.1,230.5 67.3,229.6 71,228.9 74.2,228.9 77.4,230 80.6,233.2 83.9,236.6 87.1,238.6 90.3,238.4 93.5,239 96.7,238.2 100.7,237.7 103.6,239.2 107.1,241.4 110,240.7 112.8,241.4 115,239.9 118.6,240.7 121.5,241.4 124.5,240.7 127.3,239.2 130.3,238.4 133.7,237.7 137,238.6" fill="none" stroke="#a0a020" stroke-width="0.6" stroke-linejoin="round" />
<polyline points="33.9,290.6 37.1,282.7 40.4,275.8 43.8,272.2 46.9,268.1 50.2,265.8 53.7,263.7 56.9,262.1 60.1,260.1 63.6,258.1 66.8,256.5 70.1,255.2 73.3,253.6 76.5,252 79.7,250.9 82.9,249.3 86.1,248.2 89.3,246.6 92.5,245.9 95.7,245.1 98.9,244.7 102.1,244.4 105.3,243.9 108.5,243.6 111.7,243.2 114.9,242.9 118.1,242.9 121.3,242.4 124.5,242.1 127.7,242.1 130.9,242.6 134.1,243.3 137.3,243.9" fill="none" stroke="#a0a020" stroke-width="0.6" stroke-linejoin="round" />
<polyline points="33.9,297.9 37.1,289.2 40.4,284.7 43.8,280.7 47.3,277.4 50.9,274.8 54.2,272.2 57.6,269.9 61.1,267.9 64.7,265.5 67.9,263.6 71.1,261.6 74.3,259.6 77.5,257.9 80.7,256.2 83.9,254.6 87.1,253.1 90.3,251.7 93.5,250.4 96.7,249.2 99.9,248.1 103.1,247.2 106.3,246.4 109.5,245.7 112.7,245.2 115.9,245 119.1,245 122.3,244.9 125.5,245.1 128.7,244.9 131.9,245.1 135.1,244.9 138.3,245" fill="none" stroke="#333" stroke-width="0.6" stroke-linejoin="round" />
<circle cx="119.1" cy="245" r="1.6" fill="none" stroke="#222" stroke-width="0.85"/>
<circle cx="122.3" cy="244.9" r="1.6" fill="none" stroke="#222" stroke-width="0.85"/>
<circle cx="125.5" cy="245.1" r="1.6" fill="none" stroke="#222" stroke-width="0.85"/>
<circle cx="128.7" cy="244.9" r="1.6" fill="none" stroke="#222" stroke-width="0.85"/>
<circle cx="131.9" cy="245.1" r="1.6" fill="none" stroke="#222" stroke-width="0.85"/>
<circle cx="135.1" cy="244.9" r="1.6" fill="none" stroke="#222" stroke-width="0.85"/>
<circle cx="138.3" cy="245" r="1.6" fill="none" stroke="#222" stroke-width="0.85"/>
<circle cx="33.9" cy="297.9" r="1.6" fill="none" stroke="#9a3aae" stroke-width="0.85"/>
<circle cx="37.1" cy="289.2" r="1.6" fill="none" stroke="#9a3aae" stroke-width="0.85"/>
<circle cx="40.4" cy="284.7" r="1.6" fill="none" stroke="#9a3aae" stroke-width="0.85"/>
<circle cx="43.8" cy="280.7" r="1.6" fill="none" stroke="#9a3aae" stroke-width="0.85"/>
<circle cx="47.3" cy="277.4" r="1.6" fill="none" stroke="#9a3aae" stroke-width="0.85"/>
<circle cx="50.9" cy="274.8" r="1.6" fill="none" stroke="#9a3aae" stroke-width="0.85"/>
<circle cx="54.2" cy="272.2" r="1.6" fill="none" stroke="#9a3aae" stroke-width="0.85"/>
<circle cx="57.6" cy="269.9" r="1.6" fill="none" stroke="#9a3aae" stroke-width="0.85"/>
<circle cx="61.1" cy="267.9" r="1.6" fill="none" stroke="#9a3aae" stroke-width="0.85"/>
<circle cx="64.7" cy="265.5" r="1.6" fill="none" stroke="#9a3aae" stroke-width="0.85"/>
<circle cx="67.9" cy="263.6" r="1.6" fill="none" stroke="#9a3aae" stroke-width="0.85"/>
<circle cx="71.1" cy="261.6" r="1.6" fill="none" stroke="#9a3aae" stroke-width="0.85"/>
<circle cx="74.3" cy="259.6" r="1.6" fill="none" stroke="#9a3aae" stroke-width="0.85"/>
<circle cx="77.5" cy="257.9" r="1.6" fill="none" stroke="#9a3aae" stroke-width="0.85"/>
<circle cx="80.7" cy="256.2" r="1.6" fill="none" stroke="#9a3aae" stroke-width="0.85"/>
<circle cx="83.9" cy="254.6" r="1.6" fill="none" stroke="#9a3aae" stroke-width="0.85"/>
<circle cx="87.1" cy="253.1" r="1.6" fill="none" stroke="#9a3aae" stroke-width="0.85"/>
<circle cx="90.3" cy="251.7" r="1.6" fill="none" stroke="#9a3aae" stroke-width="0.85"/>
<circle cx="93.5" cy="250.4" r="1.6" fill="none" stroke="#9a3aae" stroke-width="0.85"/>
<circle cx="96.7" cy="249.2" r="1.6" fill="none" stroke="#9a3aae" stroke-width="0.85"/>
<circle cx="99.9" cy="248.1" r="1.6" fill="none" stroke="#9a3aae" stroke-width="0.85"/>
<circle cx="103.1" cy="247.2" r="1.6" fill="none" stroke="#9a3aae" stroke-width="0.85"/>
<circle cx="106.3" cy="246.4" r="1.6" fill="none" stroke="#9a3aae" stroke-width="0.85"/>
<circle cx="109.5" cy="245.7" r="1.6" fill="none" stroke="#9a3aae" stroke-width="0.85"/>
<circle cx="112.7" cy="245.2" r="1.6" fill="none" stroke="#9a3aae" stroke-width="0.85"/>
<circle cx="115.9" cy="245" r="1.6" fill="none" stroke="#9a3aae" stroke-width="0.85"/>
<circle cx="89.3" cy="246.6" r="1.6" fill="none" stroke="#a0a020" stroke-width="0.85"/>
<circle cx="92.5" cy="245.9" r="1.6" fill="none" stroke="#a0a020" stroke-width="0.85"/>
<circle cx="95.7" cy="245.1" r="1.6" fill="none" stroke="#a0a020" stroke-width="0.85"/>
<circle cx="98.9" cy="244.7" r="1.6" fill="none" stroke="#a0a020" stroke-width="0.85"/>
<circle cx="102.1" cy="244.4" r="1.6" fill="none" stroke="#a0a020" stroke-width="0.85"/>
<circle cx="105.3" cy="243.9" r="1.6" fill="none" stroke="#a0a020" stroke-width="0.85"/>
<circle cx="108.5" cy="243.6" r="1.6" fill="none" stroke="#a0a020" stroke-width="0.85"/>
<circle cx="111.7" cy="243.2" r="1.6" fill="none" stroke="#a0a020" stroke-width="0.85"/>
<circle cx="114.9" cy="242.9" r="1.6" fill="none" stroke="#a0a020" stroke-width="0.85"/>
<circle cx="118.1" cy="242.9" r="1.6" fill="none" stroke="#a0a020" stroke-width="0.85"/>
<circle cx="121.3" cy="242.4" r="1.6" fill="none" stroke="#a0a020" stroke-width="0.85"/>
<circle cx="124.5" cy="242.1" r="1.6" fill="none" stroke="#a0a020" stroke-width="0.85"/>
<circle cx="127.7" cy="242.1" r="1.6" fill="none" stroke="#a0a020" stroke-width="0.85"/>
<circle cx="130.9" cy="242.6" r="1.6" fill="none" stroke="#a0a020" stroke-width="0.85"/>
<circle cx="134.1" cy="243.3" r="1.6" fill="none" stroke="#a0a020" stroke-width="0.85"/>
<circle cx="137.3" cy="243.9" r="1.6" fill="none" stroke="#a0a020" stroke-width="0.85"/>
<circle cx="33.9" cy="290.6" r="1.6" fill="none" stroke="#2a9a9a" stroke-width="0.85"/>
<circle cx="37.1" cy="282.7" r="1.6" fill="none" stroke="#2a9a9a" stroke-width="0.85"/>
<circle cx="40.4" cy="275.8" r="1.6" fill="none" stroke="#2a9a9a" stroke-width="0.85"/>
<circle cx="43.8" cy="272.2" r="1.6" fill="none" stroke="#2a9a9a" stroke-width="0.85"/>
<circle cx="46.9" cy="268.1" r="1.6" fill="none" stroke="#2a9a9a" stroke-width="0.85"/>
<circle cx="50.2" cy="265.8" r="1.6" fill="none" stroke="#2a9a9a" stroke-width="0.85"/>
<circle cx="53.7" cy="263.7" r="1.6" fill="none" stroke="#2a9a9a" stroke-width="0.85"/>
<circle cx="56.9" cy="262.1" r="1.6" fill="none" stroke="#2a9a9a" stroke-width="0.85"/>
<circle cx="60.1" cy="260.1" r="1.6" fill="none" stroke="#2a9a9a" stroke-width="0.85"/>
<circle cx="63.6" cy="258.1" r="1.6" fill="none" stroke="#2a9a9a" stroke-width="0.85"/>
<circle cx="66.8" cy="256.5" r="1.6" fill="none" stroke="#2a9a9a" stroke-width="0.85"/>
<circle cx="70.1" cy="255.2" r="1.6" fill="none" stroke="#2a9a9a" stroke-width="0.85"/>
<circle cx="73.3" cy="253.6" r="1.6" fill="none" stroke="#2a9a9a" stroke-width="0.85"/>
<circle cx="76.5" cy="252" r="1.6" fill="none" stroke="#2a9a9a" stroke-width="0.85"/>
<circle cx="79.7" cy="250.9" r="1.6" fill="none" stroke="#2a9a9a" stroke-width="0.85"/>
<circle cx="82.9" cy="249.3" r="1.6" fill="none" stroke="#2a9a9a" stroke-width="0.85"/>
<circle cx="86.1" cy="248.2" r="1.6" fill="none" stroke="#2a9a9a" stroke-width="0.85"/>
<circle cx="67.3" cy="234" r="1.6" fill="none" stroke="#222" stroke-width="0.85"/>
<circle cx="71" cy="233.7" r="1.6" fill="none" stroke="#222" stroke-width="0.85"/>
<circle cx="74.5" cy="234.4" r="1.6" fill="none" stroke="#222" stroke-width="0.85"/>
<circle cx="77.8" cy="235.7" r="1.6" fill="none" stroke="#222" stroke-width="0.85"/>
<circle cx="80.6" cy="238.4" r="1.6" fill="none" stroke="#222" stroke-width="0.85"/>
<circle cx="84.4" cy="240.7" r="1.6" fill="none" stroke="#222" stroke-width="0.85"/>
<circle cx="88.9" cy="240.7" r="1.6" fill="none" stroke="#222" stroke-width="0.85"/>
<circle cx="93.3" cy="240.7" r="1.6" fill="none" stroke="#222" stroke-width="0.85"/>
<circle cx="97.7" cy="240.4" r="1.6" fill="none" stroke="#222" stroke-width="0.85"/>
<circle cx="102.2" cy="241.4" r="1.6" fill="none" stroke="#222" stroke-width="0.85"/>
<circle cx="106.6" cy="242" r="1.6" fill="none" stroke="#222" stroke-width="0.85"/>
<circle cx="110" cy="242.6" r="1.6" fill="none" stroke="#222" stroke-width="0.85"/>
<circle cx="113.3" cy="243" r="1.6" fill="none" stroke="#222" stroke-width="0.85"/>
<circle cx="116.6" cy="243.6" r="1.6" fill="none" stroke="#222" stroke-width="0.85"/>
<circle cx="119.9" cy="243.9" r="1.6" fill="none" stroke="#222" stroke-width="0.85"/>
<circle cx="123.2" cy="243.6" r="1.6" fill="none" stroke="#222" stroke-width="0.85"/>
<circle cx="126.5" cy="244" r="1.6" fill="none" stroke="#222" stroke-width="0.85"/>
<circle cx="129.8" cy="243.6" r="1.6" fill="none" stroke="#222" stroke-width="0.85"/>
<circle cx="133.1" cy="243" r="1.6" fill="none" stroke="#222" stroke-width="0.85"/>
<circle cx="136.4" cy="242.2" r="1.6" fill="none" stroke="#222" stroke-width="0.85"/>
<circle cx="138.8" cy="241.5" r="1.6" fill="none" stroke="#222" stroke-width="0.85"/>
<circle cx="67.3" cy="229.6" r="1.6" fill="none" stroke="#a0a020" stroke-width="0.85"/>
<circle cx="71" cy="228.9" r="1.6" fill="none" stroke="#a0a020" stroke-width="0.85"/>
<circle cx="74.2" cy="228.9" r="1.6" fill="none" stroke="#a0a020" stroke-width="0.85"/>
<circle cx="77.4" cy="230" r="1.6" fill="none" stroke="#a0a020" stroke-width="0.85"/>
<circle cx="80.6" cy="233.2" r="1.6" fill="none" stroke="#a0a020" stroke-width="0.85"/>
<circle cx="83.9" cy="236.6" r="1.6" fill="none" stroke="#a0a020" stroke-width="0.85"/>
<circle cx="87.1" cy="238.6" r="1.6" fill="none" stroke="#a0a020" stroke-width="0.85"/>
<circle cx="90.3" cy="238.4" r="1.6" fill="none" stroke="#a0a020" stroke-width="0.85"/>
<circle cx="93.5" cy="239" r="1.6" fill="none" stroke="#a0a020" stroke-width="0.85"/>
<circle cx="96.7" cy="238.2" r="1.6" fill="none" stroke="#a0a020" stroke-width="0.85"/>
<circle cx="100.7" cy="237.7" r="1.6" fill="none" stroke="#a0a020" stroke-width="0.85"/>
<circle cx="103.6" cy="239.2" r="1.6" fill="none" stroke="#a0a020" stroke-width="0.85"/>
<circle cx="107.1" cy="241.4" r="1.6" fill="none" stroke="#a0a020" stroke-width="0.85"/>
<circle cx="110" cy="240.7" r="1.6" fill="none" stroke="#a0a020" stroke-width="0.85"/>
<circle cx="112.8" cy="241.4" r="1.6" fill="none" stroke="#a0a020" stroke-width="0.85"/>
<circle cx="115" cy="239.9" r="1.6" fill="none" stroke="#a0a020" stroke-width="0.85"/>
<circle cx="118.6" cy="240.7" r="1.6" fill="none" stroke="#a0a020" stroke-width="0.85"/>
<circle cx="121.5" cy="241.4" r="1.6" fill="none" stroke="#a0a020" stroke-width="0.85"/>
<circle cx="124.5" cy="240.7" r="1.6" fill="none" stroke="#a0a020" stroke-width="0.85"/>
<circle cx="127.3" cy="239.2" r="1.6" fill="none" stroke="#a0a020" stroke-width="0.85"/>
<circle cx="130.3" cy="238.4" r="1.6" fill="none" stroke="#a0a020" stroke-width="0.85"/>
<circle cx="133.7" cy="237.7" r="1.6" fill="none" stroke="#a0a020" stroke-width="0.85"/>
<circle cx="137" cy="238.6" r="1.6" fill="none" stroke="#a0a020" stroke-width="0.85"/>
<circle cx="34.1" cy="263.7" r="1.6" fill="none" stroke="#ff8a1c" stroke-width="0.85"/>
<circle cx="37.3" cy="254.6" r="1.6" fill="none" stroke="#ff8a1c" stroke-width="0.85"/>
<circle cx="40.5" cy="249.3" r="1.6" fill="none" stroke="#ff8a1c" stroke-width="0.85"/>
<circle cx="44" cy="246.6" r="1.6" fill="none" stroke="#ff8a1c" stroke-width="0.85"/>
<circle cx="47.3" cy="244" r="1.6" fill="none" stroke="#ff8a1c" stroke-width="0.85"/>
<circle cx="50.5" cy="242.1" r="1.6" fill="none" stroke="#ff8a1c" stroke-width="0.85"/>
<circle cx="54" cy="240.5" r="1.6" fill="none" stroke="#ff8a1c" stroke-width="0.85"/>
<circle cx="57.2" cy="238.9" r="1.6" fill="none" stroke="#ff8a1c" stroke-width="0.85"/>
<circle cx="60.9" cy="236.9" r="1.6" fill="none" stroke="#ff8a1c" stroke-width="0.85"/>
<circle cx="64.1" cy="235.3" r="1.6" fill="none" stroke="#ff8a1c" stroke-width="0.85"/>
<circle cx="34.1" cy="257.3" r="1.6" fill="none" stroke="#9a2cff" stroke-width="0.85"/>
<circle cx="37.3" cy="249.3" r="1.6" fill="none" stroke="#9a2cff" stroke-width="0.85"/>
<circle cx="40.5" cy="244" r="1.6" fill="none" stroke="#9a2cff" stroke-width="0.85"/>
<circle cx="43.7" cy="240.8" r="1.6" fill="none" stroke="#9a2cff" stroke-width="0.85"/>
<circle cx="47.3" cy="238.1" r="1.6" fill="none" stroke="#9a2cff" stroke-width="0.85"/>
<circle cx="50.5" cy="236" r="1.6" fill="none" stroke="#9a2cff" stroke-width="0.85"/>
<circle cx="54" cy="234.4" r="1.6" fill="none" stroke="#9a2cff" stroke-width="0.85"/>
<circle cx="57.2" cy="233.2" r="1.6" fill="none" stroke="#9a2cff" stroke-width="0.85"/>
<circle cx="60.9" cy="231.6" r="1.6" fill="none" stroke="#9a2cff" stroke-width="0.85"/>
<circle cx="64.1" cy="230.5" r="1.6" fill="none" stroke="#9a2cff" stroke-width="0.85"/>
<line x1="101.5" y1="223.6" x2="110.4" y2="223.6" stroke="#000" stroke-width="0.8" />
<circle cx="106" cy="223.6" r="1.2" fill="none" stroke="#000" stroke-width="0.7"/>
<text x="111.9" y="226.1" font-size="7.0" text-anchor="start" font-weight="bold" fill="#000" font-family='"Liberation Sans", sans-serif' font-style="normal"  stroke="#000" stroke-width="0.3">H5</text>
<line x1="101.5" y1="232.5" x2="110.4" y2="232.5" stroke="#a0a020" stroke-width="0.8" />
<circle cx="106" cy="232.5" r="1.2" fill="none" stroke="#a0a020" stroke-width="0.7"/>
<text x="111.9" y="235" font-size="7.0" text-anchor="start" font-weight="bold" fill="#8f8f1a" font-family='"Liberation Sans", sans-serif' font-style="normal"  stroke="#8f8f1a" stroke-width="0.3">H3A1.5</text>
<line x1="90" y1="270.1" x2="98.5" y2="270.1" stroke="#777" stroke-width="0.8" />
<circle cx="94.2" cy="270.1" r="1.2" fill="none" stroke="#ff8a1c" stroke-width="0.7"/>
<text x="100.8" y="272.3" font-size="6.3" text-anchor="start" font-weight="bold" fill="#ff8a1c" font-family='"Liberation Sans", sans-serif' font-style="normal"  stroke="#ff8a1c" stroke-width="0.3">H5 LRS</text>
<line x1="90" y1="278.1" x2="98.5" y2="278.1" stroke="#000" stroke-width="0.8" />
<circle cx="94.2" cy="278.1" r="1.2" fill="none" stroke="#9a3aae" stroke-width="0.7"/>
<text x="100.8" y="280.3" font-size="6.3" text-anchor="start" font-weight="bold" fill="#9a3aae" font-family='"Liberation Sans", sans-serif' font-style="normal"  stroke="#9a3aae" stroke-width="0.3">H5 HRS</text>
<line x1="90" y1="286.1" x2="98.5" y2="286.1" stroke="#a0a020" stroke-width="0.8" />
<circle cx="94.2" cy="286.1" r="1.2" fill="none" stroke="#9a2cff" stroke-width="0.7"/>
<text x="100.8" y="288.3" font-size="6.3" text-anchor="start" font-weight="bold" fill="#2a9a9a" font-family='"Liberation Sans", sans-serif' font-style="normal"  stroke="#2a9a9a" stroke-width="0.3">H3A1.5 LRS</text>
<line x1="90" y1="294.1" x2="98.5" y2="294.1" stroke="#a0a020" stroke-width="0.8" />
<circle cx="94.2" cy="294.1" r="1.2" fill="none" stroke="#2a9a9a" stroke-width="0.7"/>
<text x="100.8" y="296.3" font-size="6.3" text-anchor="start" font-weight="bold" fill="#2a9a9a" font-family='"Liberation Sans", sans-serif' font-style="normal"  stroke="#2a9a9a" stroke-width="0.3">H3A1.5 HRS</text>
<text x="37.5" y="298.0" font-size="9.2" font-weight="bold" fill="#ff2020" font-family='"Liberation Sans", sans-serif' stroke="#ff2020" stroke-width="0.3">50<tspan font-size="5.8" dy="-3.6">th</tspan><tspan dy="3.6" dx="3.4" font-size="9.4">Reset</tspan></text>
<rect x="177.3" y="220.9" width="109.7" height="81.1" fill="none" stroke="#7a7a7a" stroke-width="0.9"/>
<line x1="177.1" y1="302" x2="177.1" y2="300" stroke="#7a7a7a" stroke-width="0.81" />
<line x1="177.1" y1="220.9" x2="177.1" y2="222.9" stroke="#7a7a7a" stroke-width="0.81" />
<line x1="197.12" y1="302" x2="197.12" y2="300" stroke="#7a7a7a" stroke-width="0.81" />
<line x1="197.12" y1="220.9" x2="197.12" y2="222.9" stroke="#7a7a7a" stroke-width="0.81" />
<line x1="217.14" y1="302" x2="217.14" y2="300" stroke="#7a7a7a" stroke-width="0.81" />
<line x1="217.14" y1="220.9" x2="217.14" y2="222.9" stroke="#7a7a7a" stroke-width="0.81" />
<line x1="237.16" y1="302" x2="237.16" y2="300" stroke="#7a7a7a" stroke-width="0.81" />
<line x1="237.16" y1="220.9" x2="237.16" y2="222.9" stroke="#7a7a7a" stroke-width="0.81" />
<line x1="257.18" y1="302" x2="257.18" y2="300" stroke="#7a7a7a" stroke-width="0.81" />
<line x1="257.18" y1="220.9" x2="257.18" y2="222.9" stroke="#7a7a7a" stroke-width="0.81" />
<line x1="277.2" y1="302" x2="277.2" y2="300" stroke="#7a7a7a" stroke-width="0.81" />
<line x1="277.2" y1="220.9" x2="277.2" y2="222.9" stroke="#7a7a7a" stroke-width="0.81" />
<line x1="187.11" y1="302" x2="187.11" y2="300.8" stroke="#7a7a7a" stroke-width="0.7200000000000001" />
<line x1="187.11" y1="220.9" x2="187.11" y2="222.1" stroke="#7a7a7a" stroke-width="0.7200000000000001" />
<line x1="207.13" y1="302" x2="207.13" y2="300.8" stroke="#7a7a7a" stroke-width="0.7200000000000001" />
<line x1="207.13" y1="220.9" x2="207.13" y2="222.1" stroke="#7a7a7a" stroke-width="0.7200000000000001" />
<line x1="227.15" y1="302" x2="227.15" y2="300.8" stroke="#7a7a7a" stroke-width="0.7200000000000001" />
<line x1="227.15" y1="220.9" x2="227.15" y2="222.1" stroke="#7a7a7a" stroke-width="0.7200000000000001" />
<line x1="247.17" y1="302" x2="247.17" y2="300.8" stroke="#7a7a7a" stroke-width="0.7200000000000001" />
<line x1="247.17" y1="220.9" x2="247.17" y2="222.1" stroke="#7a7a7a" stroke-width="0.7200000000000001" />
<line x1="267.19" y1="302" x2="267.19" y2="300.8" stroke="#7a7a7a" stroke-width="0.7200000000000001" />
<line x1="267.19" y1="220.9" x2="267.19" y2="222.1" stroke="#7a7a7a" stroke-width="0.7200000000000001" />
<line x1="177.3" y1="286.18" x2="179.3" y2="286.18" stroke="#7a7a7a" stroke-width="0.81" />
<line x1="287" y1="286.18" x2="285" y2="286.18" stroke="#7a7a7a" stroke-width="0.81" />
<line x1="177.3" y1="271.06" x2="179.3" y2="271.06" stroke="#7a7a7a" stroke-width="0.81" />
<line x1="287" y1="271.06" x2="285" y2="271.06" stroke="#7a7a7a" stroke-width="0.81" />
<line x1="177.3" y1="255.94" x2="179.3" y2="255.94" stroke="#7a7a7a" stroke-width="0.81" />
<line x1="287" y1="255.94" x2="285" y2="255.94" stroke="#7a7a7a" stroke-width="0.81" />
<line x1="177.3" y1="240.82" x2="179.3" y2="240.82" stroke="#7a7a7a" stroke-width="0.81" />
<line x1="287" y1="240.82" x2="285" y2="240.82" stroke="#7a7a7a" stroke-width="0.81" />
<line x1="177.3" y1="225.7" x2="179.3" y2="225.7" stroke="#7a7a7a" stroke-width="0.81" />
<line x1="287" y1="225.7" x2="285" y2="225.7" stroke="#7a7a7a" stroke-width="0.81" />
<line x1="177.3" y1="293.74" x2="178.5" y2="293.74" stroke="#7a7a7a" stroke-width="0.7200000000000001" />
<line x1="287" y1="293.74" x2="285.8" y2="293.74" stroke="#7a7a7a" stroke-width="0.7200000000000001" />
<line x1="177.3" y1="278.62" x2="178.5" y2="278.62" stroke="#7a7a7a" stroke-width="0.7200000000000001" />
<line x1="287" y1="278.62" x2="285.8" y2="278.62" stroke="#7a7a7a" stroke-width="0.7200000000000001" />
<line x1="177.3" y1="263.5" x2="178.5" y2="263.5" stroke="#7a7a7a" stroke-width="0.7200000000000001" />
<line x1="287" y1="263.5" x2="285.8" y2="263.5" stroke="#7a7a7a" stroke-width="0.7200000000000001" />
<line x1="177.3" y1="248.38" x2="178.5" y2="248.38" stroke="#7a7a7a" stroke-width="0.7200000000000001" />
<line x1="287" y1="248.38" x2="285.8" y2="248.38" stroke="#7a7a7a" stroke-width="0.7200000000000001" />
<line x1="177.3" y1="233.26" x2="178.5" y2="233.26" stroke="#7a7a7a" stroke-width="0.7200000000000001" />
<line x1="287" y1="233.26" x2="285.8" y2="233.26" stroke="#7a7a7a" stroke-width="0.7200000000000001" />
<text x="177.1" y="310.4" font-size="7.8" text-anchor="middle" font-weight="bold" fill="#000" font-family='"Liberation Sans", sans-serif' font-style="normal"  stroke="#000" stroke-width="0.3">0.0</text>
<text x="197.12" y="310.4" font-size="7.8" text-anchor="middle" font-weight="bold" fill="#000" font-family='"Liberation Sans", sans-serif' font-style="normal"  stroke="#000" stroke-width="0.3">0.1</text>
<text x="217.14" y="310.4" font-size="7.8" text-anchor="middle" font-weight="bold" fill="#000" font-family='"Liberation Sans", sans-serif' font-style="normal"  stroke="#000" stroke-width="0.3">0.2</text>
<text x="237.16" y="310.4" font-size="7.8" text-anchor="middle" font-weight="bold" fill="#000" font-family='"Liberation Sans", sans-serif' font-style="normal"  stroke="#000" stroke-width="0.3">0.3</text>
<text x="257.18" y="310.4" font-size="7.8" text-anchor="middle" font-weight="bold" fill="#000" font-family='"Liberation Sans", sans-serif' font-style="normal"  stroke="#000" stroke-width="0.3">0.4</text>
<text x="277.2" y="310.4" font-size="7.8" text-anchor="middle" font-weight="bold" fill="#000" font-family='"Liberation Sans", sans-serif' font-style="normal"  stroke="#000" stroke-width="0.3">0.5</text>
<text x="175.6" y="304.03" font-size="7.8" text-anchor="end" font-weight="bold" fill="#000" font-family='"Liberation Sans", sans-serif' font-style="normal"  stroke="#000" stroke-width="0.3">0</text>
<text x="175.6" y="288.91" font-size="7.8" text-anchor="end" font-weight="bold" fill="#000" font-family='"Liberation Sans", sans-serif' font-style="normal"  stroke="#000" stroke-width="0.3">30</text>
<text x="175.6" y="273.79" font-size="7.8" text-anchor="end" font-weight="bold" fill="#000" font-family='"Liberation Sans", sans-serif' font-style="normal"  stroke="#000" stroke-width="0.3">60</text>
<text x="175.6" y="258.67" font-size="7.8" text-anchor="end" font-weight="bold" fill="#000" font-family='"Liberation Sans", sans-serif' font-style="normal"  stroke="#000" stroke-width="0.3">90</text>
<text x="175.6" y="243.55" font-size="7.8" text-anchor="end" font-weight="bold" fill="#000" font-family='"Liberation Sans", sans-serif' font-style="normal"  stroke="#000" stroke-width="0.3">120</text>
<text x="175.6" y="228.43" font-size="7.8" text-anchor="end" font-weight="bold" fill="#000" font-family='"Liberation Sans", sans-serif' font-style="normal"  stroke="#000" stroke-width="0.3">150</text>
<polyline points="177.1,301.3 281.7,221.8" fill="none" stroke="#9a2cff" stroke-width="0.9" stroke-linejoin="round" />
<circle cx="187" cy="294.3" r="1.7" fill="none" stroke="#9a2cff" stroke-width="0.8"/>
<circle cx="197" cy="286.1" r="1.7" fill="none" stroke="#9a2cff" stroke-width="0.8"/>
<circle cx="207.4" cy="278.4" r="1.7" fill="none" stroke="#9a2cff" stroke-width="0.8"/>
<circle cx="217.4" cy="270.1" r="1.7" fill="none" stroke="#9a2cff" stroke-width="0.8"/>
<circle cx="227.3" cy="262.7" r="1.7" fill="none" stroke="#9a2cff" stroke-width="0.8"/>
<circle cx="237.1" cy="254.9" r="1.7" fill="none" stroke="#9a2cff" stroke-width="0.8"/>
<circle cx="247.1" cy="248.2" r="1.7" fill="none" stroke="#9a2cff" stroke-width="0.8"/>
<circle cx="257" cy="241.1" r="1.7" fill="none" stroke="#9a2cff" stroke-width="0.8"/>
<circle cx="267.3" cy="234.7" r="1.7" fill="none" stroke="#9a2cff" stroke-width="0.8"/>
<circle cx="277.4" cy="227.8" r="1.7" fill="none" stroke="#9a2cff" stroke-width="0.8"/>
<polyline points="177.1,301.3 282.9,248.9" fill="none" stroke="#ff8a1c" stroke-width="0.9" stroke-linejoin="round" />
<circle cx="187" cy="297.7" r="1.7" fill="none" stroke="#ff8a1c" stroke-width="0.8"/>
<circle cx="197" cy="291.8" r="1.7" fill="none" stroke="#ff8a1c" stroke-width="0.8"/>
<circle cx="207.4" cy="287" r="1.7" fill="none" stroke="#ff8a1c" stroke-width="0.8"/>
<circle cx="217.4" cy="281.8" r="1.7" fill="none" stroke="#ff8a1c" stroke-width="0.8"/>
<circle cx="227.3" cy="277" r="1.7" fill="none" stroke="#ff8a1c" stroke-width="0.8"/>
<circle cx="237.1" cy="272" r="1.7" fill="none" stroke="#ff8a1c" stroke-width="0.8"/>
<circle cx="247.1" cy="267.2" r="1.7" fill="none" stroke="#ff8a1c" stroke-width="0.8"/>
<circle cx="257" cy="261.8" r="1.7" fill="none" stroke="#ff8a1c" stroke-width="0.8"/>
<circle cx="267.3" cy="257.2" r="1.7" fill="none" stroke="#ff8a1c" stroke-width="0.8"/>
<circle cx="277.4" cy="252.7" r="1.7" fill="none" stroke="#ff8a1c" stroke-width="0.8"/>
<text x="180.1" y="229.3" font-size="9.2" font-weight="bold" fill="#000" font-family='"Liberation Sans", sans-serif' word-spacing="1.2" letter-spacing="0" stroke="#000" stroke-width="0.3">Ohmic conduction</text>
<text transform="translate(160.2,267.6) rotate(-90)" text-anchor="middle" font-size="10.6" font-weight="bold" font-family='"Liberation Sans", sans-serif' stroke="#000" stroke-width="0.3"><tspan font-style="italic">I</tspan><tspan font-weight="normal" stroke-width="0.12"> (&#181;A)</tspan></text>
<text x="221.6" y="319.3" font-size="9.6" font-weight="bold" font-family='"Liberation Sans", sans-serif' stroke="#000" stroke-width="0.3"><tspan font-style="italic">V</tspan> (V)</text>
<text x="145.2" y="228" font-size="11.7" text-anchor="start" font-weight="normal" fill="#000" font-family='"Liberation Serif", serif' font-style="normal"  stroke="#000" stroke-width="0.3">(j)</text>
<rect x="322.7" y="219.1" width="109.8" height="80.6" fill="none" stroke="#7a7a7a" stroke-width="0.9"/>
<line x1="337.7" y1="299.7" x2="337.7" y2="297.7" stroke="#7a7a7a" stroke-width="0.81" />
<line x1="337.7" y1="219.1" x2="337.7" y2="221.1" stroke="#7a7a7a" stroke-width="0.81" />
<line x1="366.6" y1="299.7" x2="366.6" y2="297.7" stroke="#7a7a7a" stroke-width="0.81" />
<line x1="366.6" y1="219.1" x2="366.6" y2="221.1" stroke="#7a7a7a" stroke-width="0.81" />
<line x1="395.5" y1="299.7" x2="395.5" y2="297.7" stroke="#7a7a7a" stroke-width="0.81" />
<line x1="395.5" y1="219.1" x2="395.5" y2="221.1" stroke="#7a7a7a" stroke-width="0.81" />
<line x1="424.4" y1="299.7" x2="424.4" y2="297.7" stroke="#7a7a7a" stroke-width="0.81" />
<line x1="424.4" y1="219.1" x2="424.4" y2="221.1" stroke="#7a7a7a" stroke-width="0.81" />
<line x1="352.15" y1="299.7" x2="352.15" y2="298.5" stroke="#7a7a7a" stroke-width="0.7200000000000001" />
<line x1="352.15" y1="219.1" x2="352.15" y2="220.3" stroke="#7a7a7a" stroke-width="0.7200000000000001" />
<line x1="381.05" y1="299.7" x2="381.05" y2="298.5" stroke="#7a7a7a" stroke-width="0.7200000000000001" />
<line x1="381.05" y1="219.1" x2="381.05" y2="220.3" stroke="#7a7a7a" stroke-width="0.7200000000000001" />
<line x1="409.95" y1="299.7" x2="409.95" y2="298.5" stroke="#7a7a7a" stroke-width="0.7200000000000001" />
<line x1="409.95" y1="219.1" x2="409.95" y2="220.3" stroke="#7a7a7a" stroke-width="0.7200000000000001" />
<line x1="322.7" y1="227.5" x2="324.7" y2="227.5" stroke="#7a7a7a" stroke-width="0.81" />
<line x1="432.5" y1="227.5" x2="430.5" y2="227.5" stroke="#7a7a7a" stroke-width="0.81" />
<line x1="322.7" y1="245.4" x2="324.7" y2="245.4" stroke="#7a7a7a" stroke-width="0.81" />
<line x1="432.5" y1="245.4" x2="430.5" y2="245.4" stroke="#7a7a7a" stroke-width="0.81" />
<line x1="322.7" y1="263.3" x2="324.7" y2="263.3" stroke="#7a7a7a" stroke-width="0.81" />
<line x1="432.5" y1="263.3" x2="430.5" y2="263.3" stroke="#7a7a7a" stroke-width="0.81" />
<line x1="322.7" y1="281.2" x2="324.7" y2="281.2" stroke="#7a7a7a" stroke-width="0.81" />
<line x1="432.5" y1="281.2" x2="430.5" y2="281.2" stroke="#7a7a7a" stroke-width="0.81" />
<line x1="322.7" y1="299.1" x2="324.7" y2="299.1" stroke="#7a7a7a" stroke-width="0.81" />
<line x1="432.5" y1="299.1" x2="430.5" y2="299.1" stroke="#7a7a7a" stroke-width="0.81" />
<text x="337.7" y="308" font-size="7.8" text-anchor="middle" font-weight="bold" fill="#000" font-family='"Liberation Sans", sans-serif' font-style="normal"  stroke="#000" stroke-width="0.3">-1.2</text>
<text x="366.6" y="308" font-size="7.8" text-anchor="middle" font-weight="bold" fill="#000" font-family='"Liberation Sans", sans-serif' font-style="normal"  stroke="#000" stroke-width="0.3">-0.8</text>
<text x="395.5" y="308" font-size="7.8" text-anchor="middle" font-weight="bold" fill="#000" font-family='"Liberation Sans", sans-serif' font-style="normal"  stroke="#000" stroke-width="0.3">-0.4</text>
<text x="424.4" y="308" font-size="7.8" text-anchor="middle" font-weight="bold" fill="#000" font-family='"Liberation Sans", sans-serif' font-style="normal"  stroke="#000" stroke-width="0.3">0.0</text>
<text x="320.6" y="230.23" font-size="7.8" text-anchor="end" font-weight="bold" fill="#000" font-family='"Liberation Sans", sans-serif' font-style="normal"  stroke="#000" stroke-width="0.3">-4.5</text>
<text x="320.6" y="248.13" font-size="7.8" text-anchor="end" font-weight="bold" fill="#000" font-family='"Liberation Sans", sans-serif' font-style="normal"  stroke="#000" stroke-width="0.3">-5.0</text>
<text x="320.6" y="266.03" font-size="7.8" text-anchor="end" font-weight="bold" fill="#000" font-family='"Liberation Sans", sans-serif' font-style="normal"  stroke="#000" stroke-width="0.3">-5.5</text>
<text x="320.6" y="283.93" font-size="7.8" text-anchor="end" font-weight="bold" fill="#000" font-family='"Liberation Sans", sans-serif' font-style="normal"  stroke="#000" stroke-width="0.3">-6.0</text>
<text x="320.6" y="301.83" font-size="7.8" text-anchor="end" font-weight="bold" fill="#000" font-family='"Liberation Sans", sans-serif' font-style="normal"  stroke="#000" stroke-width="0.3">-6.5</text>
<polyline points="326.2,294 382.9,259.7" fill="none" stroke="#a020a0" stroke-width="0.8" stroke-linejoin="round" />
<polyline points="380.6,262 428.9,223.4" fill="none" stroke="#a020a0" stroke-width="0.8" stroke-linejoin="round" />
<circle cx="330.4" cy="291.66" r="1.6" fill="none" stroke="#a020a0" stroke-width="0.8"/>
<circle cx="352.15" cy="279.93" r="1.6" fill="none" stroke="#a020a0" stroke-width="0.8"/>
<circle cx="364.87" cy="274.58" r="1.6" fill="none" stroke="#a020a0" stroke-width="0.8"/>
<circle cx="373.9" cy="266.64" r="1.6" fill="none" stroke="#a020a0" stroke-width="0.8"/>
<circle cx="380.9" cy="260.9" r="1.6" fill="none" stroke="#a020a0" stroke-width="0.8"/>
<circle cx="386.62" cy="257.09" r="1.6" fill="none" stroke="#a020a0" stroke-width="0.8"/>
<circle cx="391.46" cy="254.24" r="1.6" fill="none" stroke="#a020a0" stroke-width="0.8"/>
<circle cx="395.65" cy="251.43" r="1.6" fill="none" stroke="#a020a0" stroke-width="0.8"/>
<circle cx="399.34" cy="248.76" r="1.6" fill="none" stroke="#a020a0" stroke-width="0.8"/>
<circle cx="402.65" cy="246.56" r="1.6" fill="none" stroke="#a020a0" stroke-width="0.8"/>
<circle cx="405.64" cy="244.03" r="1.6" fill="none" stroke="#a020a0" stroke-width="0.8"/>
<circle cx="408.37" cy="241.8" r="1.6" fill="none" stroke="#a020a0" stroke-width="0.8"/>
<circle cx="410.88" cy="239.81" r="1.6" fill="none" stroke="#a020a0" stroke-width="0.8"/>
<circle cx="413.21" cy="237.49" r="1.6" fill="none" stroke="#a020a0" stroke-width="0.8"/>
<circle cx="415.37" cy="235.39" r="1.6" fill="none" stroke="#a020a0" stroke-width="0.8"/>
<circle cx="417.4" cy="233.59" r="1.6" fill="none" stroke="#a020a0" stroke-width="0.8"/>
<circle cx="419.3" cy="232.09" r="1.6" fill="none" stroke="#a020a0" stroke-width="0.8"/>
<circle cx="421.09" cy="230.59" r="1.6" fill="none" stroke="#a020a0" stroke-width="0.8"/>
<circle cx="422.79" cy="229.14" r="1.6" fill="none" stroke="#a020a0" stroke-width="0.8"/>
<circle cx="424.4" cy="227.76" r="1.6" fill="none" stroke="#a020a0" stroke-width="0.8"/>
<text x="326.1" y="228.8" font-size="8.8" font-weight="bold" fill="#000" font-family='"Liberation Sans", sans-serif' word-spacing="2.2" letter-spacing="0" stroke="#000" stroke-width="0.3">SCLC</text>
<text transform="translate(330.4,284.4) rotate(-25)" font-size="9.0" font-weight="bold" fill="#a020a0" font-family='"Liberation Sans", sans-serif' stroke="#a020a0" stroke-width="0.3">Slope=0.95</text>
<text transform="translate(379.8,256.6) rotate(-35.5)" font-size="9.0" font-weight="bold" fill="#a020a0" font-family='"Liberation Sans", sans-serif' stroke="#a020a0" stroke-width="0.3">Slope=1.85</text>
<text transform="translate(300.2,264.5) rotate(-90)" font-size="9.1" text-anchor="middle" font-weight="bold" fill="#000" font-family='"Liberation Sans", sans-serif'  stroke="#000" stroke-width="0.3">log (I)</text>
<text x="362.8" y="320" font-size="9.4" text-anchor="start" font-weight="bold" fill="#000" font-family='"Liberation Sans", sans-serif' font-style="normal"  stroke="#000" stroke-width="0.3">log (V)</text>
<text x="292.8" y="228" font-size="11.7" text-anchor="start" font-weight="normal" fill="#000" font-family='"Liberation Serif", serif' font-style="normal"  stroke="#000" stroke-width="0.3">(k)</text>
<rect x="463.2" y="220" width="107.8" height="79.4" fill="none" stroke="#7a7a7a" stroke-width="0.9"/>
<line x1="471.15" y1="299.4" x2="471.15" y2="297.4" stroke="#7a7a7a" stroke-width="0.81" />
<line x1="471.15" y1="220" x2="471.15" y2="222" stroke="#7a7a7a" stroke-width="0.81" />
<line x1="504.2" y1="299.4" x2="504.2" y2="297.4" stroke="#7a7a7a" stroke-width="0.81" />
<line x1="504.2" y1="220" x2="504.2" y2="222" stroke="#7a7a7a" stroke-width="0.81" />
<line x1="537.25" y1="299.4" x2="537.25" y2="297.4" stroke="#7a7a7a" stroke-width="0.81" />
<line x1="537.25" y1="220" x2="537.25" y2="222" stroke="#7a7a7a" stroke-width="0.81" />
<line x1="570.3" y1="299.4" x2="570.3" y2="297.4" stroke="#7a7a7a" stroke-width="0.81" />
<line x1="570.3" y1="220" x2="570.3" y2="222" stroke="#7a7a7a" stroke-width="0.81" />
<line x1="487.67" y1="299.4" x2="487.67" y2="298.2" stroke="#7a7a7a" stroke-width="0.7200000000000001" />
<line x1="487.67" y1="220" x2="487.67" y2="221.2" stroke="#7a7a7a" stroke-width="0.7200000000000001" />
<line x1="520.72" y1="299.4" x2="520.72" y2="298.2" stroke="#7a7a7a" stroke-width="0.7200000000000001" />
<line x1="520.72" y1="220" x2="520.72" y2="221.2" stroke="#7a7a7a" stroke-width="0.7200000000000001" />
<line x1="553.77" y1="299.4" x2="553.77" y2="298.2" stroke="#7a7a7a" stroke-width="0.7200000000000001" />
<line x1="553.77" y1="220" x2="553.77" y2="221.2" stroke="#7a7a7a" stroke-width="0.7200000000000001" />
<line x1="463.2" y1="224.2" x2="465.2" y2="224.2" stroke="#7a7a7a" stroke-width="0.81" />
<line x1="571" y1="224.2" x2="569" y2="224.2" stroke="#7a7a7a" stroke-width="0.81" />
<line x1="463.2" y1="241.85" x2="465.2" y2="241.85" stroke="#7a7a7a" stroke-width="0.81" />
<line x1="571" y1="241.85" x2="569" y2="241.85" stroke="#7a7a7a" stroke-width="0.81" />
<line x1="463.2" y1="259.5" x2="465.2" y2="259.5" stroke="#7a7a7a" stroke-width="0.81" />
<line x1="571" y1="259.5" x2="569" y2="259.5" stroke="#7a7a7a" stroke-width="0.81" />
<line x1="463.2" y1="277.15" x2="465.2" y2="277.15" stroke="#7a7a7a" stroke-width="0.81" />
<line x1="571" y1="277.15" x2="569" y2="277.15" stroke="#7a7a7a" stroke-width="0.81" />
<line x1="463.2" y1="294.8" x2="465.2" y2="294.8" stroke="#7a7a7a" stroke-width="0.81" />
<line x1="571" y1="294.8" x2="569" y2="294.8" stroke="#7a7a7a" stroke-width="0.81" />
<line x1="463.2" y1="233.02" x2="464.4" y2="233.02" stroke="#7a7a7a" stroke-width="0.7200000000000001" />
<line x1="571" y1="233.02" x2="569.8" y2="233.02" stroke="#7a7a7a" stroke-width="0.7200000000000001" />
<line x1="463.2" y1="250.67" x2="464.4" y2="250.67" stroke="#7a7a7a" stroke-width="0.7200000000000001" />
<line x1="571" y1="250.67" x2="569.8" y2="250.67" stroke="#7a7a7a" stroke-width="0.7200000000000001" />
<line x1="463.2" y1="268.32" x2="464.4" y2="268.32" stroke="#7a7a7a" stroke-width="0.7200000000000001" />
<line x1="571" y1="268.32" x2="569.8" y2="268.32" stroke="#7a7a7a" stroke-width="0.7200000000000001" />
<line x1="463.2" y1="285.97" x2="464.4" y2="285.97" stroke="#7a7a7a" stroke-width="0.7200000000000001" />
<line x1="571" y1="285.97" x2="569.8" y2="285.97" stroke="#7a7a7a" stroke-width="0.7200000000000001" />
<text x="471.15" y="307.8" font-size="7.8" text-anchor="middle" font-weight="bold" fill="#000" font-family='"Liberation Sans", sans-serif' font-style="normal"  stroke="#000" stroke-width="0.3">-3</text>
<text x="504.2" y="307.8" font-size="7.8" text-anchor="middle" font-weight="bold" fill="#000" font-family='"Liberation Sans", sans-serif' font-style="normal"  stroke="#000" stroke-width="0.3">-2</text>
<text x="537.25" y="307.8" font-size="7.8" text-anchor="middle" font-weight="bold" fill="#000" font-family='"Liberation Sans", sans-serif' font-style="normal"  stroke="#000" stroke-width="0.3">-1</text>
<text x="570.3" y="307.8" font-size="7.8" text-anchor="middle" font-weight="bold" fill="#000" font-family='"Liberation Sans", sans-serif' font-style="normal"  stroke="#000" stroke-width="0.3">0</text>
<text x="461" y="226.93" font-size="7.8" text-anchor="end" font-weight="bold" fill="#000" font-family='"Liberation Sans", sans-serif' font-style="normal"  stroke="#000" stroke-width="0.3">-10</text>
<text x="461" y="244.58" font-size="7.8" text-anchor="end" font-weight="bold" fill="#000" font-family='"Liberation Sans", sans-serif' font-style="normal"  stroke="#000" stroke-width="0.3">-11</text>
<text x="461" y="262.23" font-size="7.8" text-anchor="end" font-weight="bold" fill="#000" font-family='"Liberation Sans", sans-serif' font-style="normal"  stroke="#000" stroke-width="0.3">-12</text>
<text x="461" y="279.88" font-size="7.8" text-anchor="end" font-weight="bold" fill="#000" font-family='"Liberation Sans", sans-serif' font-style="normal"  stroke="#000" stroke-width="0.3">-13</text>
<text x="461" y="297.53" font-size="7.8" text-anchor="end" font-weight="bold" fill="#000" font-family='"Liberation Sans", sans-serif' font-style="normal"  stroke="#000" stroke-width="0.3">-14</text>
<polyline points="470.3,293.5 569.3,228.9" fill="none" stroke="#2a9a9a" stroke-width="0.9" stroke-linejoin="round" />
<circle cx="471.3" cy="293.15" r="1.5" fill="none" stroke="#2a9a9a" stroke-width="0.75"/>
<circle cx="494.2" cy="278.51" r="1.5" fill="none" stroke="#2a9a9a" stroke-width="0.75"/>
<circle cx="507.7" cy="270" r="1.5" fill="none" stroke="#2a9a9a" stroke-width="0.75"/>
<circle cx="517.3" cy="263.83" r="1.5" fill="none" stroke="#2a9a9a" stroke-width="0.75"/>
<circle cx="524.7" cy="258.6" r="1.5" fill="none" stroke="#2a9a9a" stroke-width="0.75"/>
<circle cx="530.9" cy="255.16" r="1.5" fill="none" stroke="#2a9a9a" stroke-width="0.75"/>
<circle cx="535.8" cy="251.56" r="1.5" fill="none" stroke="#2a9a9a" stroke-width="0.75"/>
<circle cx="540.3" cy="248.33" r="1.5" fill="none" stroke="#2a9a9a" stroke-width="0.75"/>
<circle cx="544.4" cy="245.75" r="1.5" fill="none" stroke="#2a9a9a" stroke-width="0.75"/>
<circle cx="547.9" cy="243.47" r="1.5" fill="none" stroke="#2a9a9a" stroke-width="0.75"/>
<circle cx="550.9" cy="241.41" r="1.5" fill="none" stroke="#2a9a9a" stroke-width="0.75"/>
<circle cx="553.7" cy="239.48" r="1.5" fill="none" stroke="#2a9a9a" stroke-width="0.75"/>
<circle cx="556.3" cy="237.79" r="1.5" fill="none" stroke="#2a9a9a" stroke-width="0.75"/>
<circle cx="558.6" cy="236.08" r="1.5" fill="none" stroke="#2a9a9a" stroke-width="0.75"/>
<circle cx="560.8" cy="234.75" r="1.5" fill="none" stroke="#2a9a9a" stroke-width="0.75"/>
<circle cx="562.9" cy="233.28" r="1.5" fill="none" stroke="#2a9a9a" stroke-width="0.75"/>
<circle cx="565" cy="231.91" r="1.5" fill="none" stroke="#2a9a9a" stroke-width="0.75"/>
<circle cx="566.9" cy="230.67" r="1.5" fill="none" stroke="#2a9a9a" stroke-width="0.75"/>
<text x="465.6" y="229.5" font-size="9.2" font-weight="bold" fill="#000" font-family='"Liberation Sans", sans-serif' word-spacing="1.7" letter-spacing="0" stroke="#000" stroke-width="0.3">Ionic conduction</text>
<text transform="translate(443.8,265.8) rotate(-90)" font-size="9.4" text-anchor="middle" font-weight="bold" fill="#000" font-family='"Liberation Sans", sans-serif'  stroke="#000" stroke-width="0.3">ln (I)</text>
<text x="505.1" y="320" font-size="9.6" text-anchor="start" font-weight="bold" fill="#000" font-family='"Liberation Sans", sans-serif' font-style="normal"  stroke="#000" stroke-width="0.3">ln (V)</text>
<text x="435.7" y="228" font-size="11.7" text-anchor="start" font-weight="bold" fill="#000" font-family='"Liberation Serif", serif' font-style="normal"  stroke="#000" stroke-width="0.3">(l)</text>
</svg></body></html>
